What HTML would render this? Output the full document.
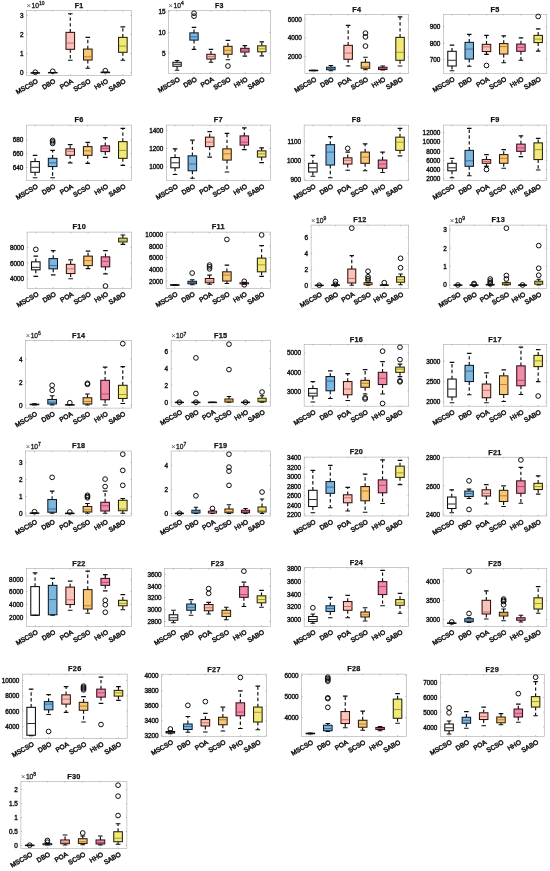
<!DOCTYPE html>
<html><head><meta charset="utf-8"><title>Boxplots</title>
<style>
html,body{margin:0;padding:0;background:#fff}
svg{display:block;filter:blur(0.3px);font-family:"Liberation Sans",sans-serif}
.ax{fill:#fff;stroke:#a8a8a8;stroke-width:.6}
.ti{font-weight:bold;text-anchor:middle;letter-spacing:.3px;fill:#111;stroke:#111;stroke-width:.25}
.ex{font-size:6.7px;fill:#1a1a1a;stroke:#1a1a1a;stroke-width:.3}
.mx{font-size:7.5px;stroke:none;fill:#555}
.yl{font-size:6.4px;text-anchor:end;fill:#1a1a1a;stroke:#1a1a1a;stroke-width:.42}
.xl{font-size:6.6px;text-anchor:end;fill:#1a1a1a;stroke:#1a1a1a;stroke-width:.5}
.wh{fill:none;stroke:#0c0c0c;stroke-width:1.15;stroke-dasharray:3.4 2.4}
.cp{fill:none;stroke:#0c0c0c;stroke-width:1.15}
.tk{fill:none;stroke:#888;stroke-width:.5}
circle{fill:none;stroke:#0c0c0c;stroke-width:1}
.b0{fill:#ffffff;stroke:#0c0c0c;stroke-width:1.05}
.m0{fill:none;stroke:#111111;stroke-width:.9}
.b1{fill:#7db7e0;stroke:#0c1a28;stroke-width:1.05}
.m1{fill:none;stroke:#2f6698;stroke-width:.9}
.b2{fill:#f9c3bb;stroke:#34100c;stroke-width:1.05}
.m2{fill:none;stroke:#c4665a;stroke-width:.9}
.b3{fill:#f8c878;stroke:#2a1c08;stroke-width:1.05}
.m3{fill:none;stroke:#b07c22;stroke-width:.9}
.b4{fill:#f08ca8;stroke:#340c1a;stroke-width:1.05}
.m4{fill:none;stroke:#b04466;stroke-width:.9}
.b5{fill:#f2ea78;stroke:#24210a;stroke-width:1.05}
.m5{fill:none;stroke:#989030;stroke-width:.9}
.fl{stroke:#111}
</style></head>
<body>
<svg width="550" height="871" viewBox="0 0 550 871">
<rect width="550" height="871" fill="#fff"/>
<g>
<rect class="ax" x="26.5" y="10.46" width="105.1" height="64.84"/>
<text class="ti" x="79.05" y="8.16" font-size="7.0">F1</text>
<text class="ex" x="26.5" y="8.16"><tspan class="mx">×</tspan><tspan dx="0.6">10</tspan><tspan dy="-2.8" font-size="5">10</tspan></text>
<text class="yl" x="23.5" y="17.94">3</text>
<text class="yl" x="23.5" y="36.87">2</text>
<text class="yl" x="23.5" y="56.05">1</text>
<text class="yl" x="23.5" y="75.23">0</text>
<text class="xl" transform="translate(38.56,82.5) rotate(-30)">MSCSO</text>
<rect class="b0 fl" x="30.97" y="72.73" width="8.58" height="0.4"/>
<path class="m0 fl" d="M31.42 72.73h7.68"/>
<circle cx="35.26" cy="72.24" r="2.35"/>
<text class="xl" transform="translate(56.07,82.5) rotate(-30)">DBO</text>
<rect class="b1 fl" x="48.48" y="72.49" width="8.58" height="0.4"/>
<path class="m1 fl" d="M48.93 72.49h7.68"/>
<circle cx="52.77" cy="71.24" r="2.35"/>
<text class="xl" transform="translate(73.59,82.5) rotate(-30)">POA</text>
<path class="wh" d="M70.29 32.38V13.7M70.29 49.32V60.28"/>
<rect class="b2" x="66" y="32.38" width="8.58" height="16.94"/>
<path class="m2" d="M66.45 43.09h7.68"/>
<text class="xl" transform="translate(91.11,82.5) rotate(-30)">SCSO</text>
<path class="wh" d="M87.81 49.07V37.36M87.81 60.03V68.25"/>
<rect class="b3" x="83.52" y="49.07" width="8.58" height="10.96"/>
<path class="m3" d="M83.97 56.79h7.68"/>
<text class="xl" transform="translate(108.62,82.5) rotate(-30)">HHO</text>
<rect class="b4 fl" x="101.03" y="72.24" width="8.58" height="0.4"/>
<path class="m4 fl" d="M101.48 72.24h7.68"/>
<circle cx="105.32" cy="70.74" r="2.35"/>
<text class="xl" transform="translate(126.14,82.5) rotate(-30)">SABO</text>
<path class="wh" d="M122.84 37.36V26.9M122.84 52.31V60.28"/>
<rect class="b5" x="118.55" y="37.36" width="8.58" height="14.95"/>
<path class="m5" d="M119 46.08h7.68"/>
<path class="cp" d="M32.94 72.73h4.63M32.94 72.73h4.63M50.46 72.49h4.63M50.46 72.49h4.63M67.97 13.7h4.63M67.97 60.28h4.63M85.49 37.36h4.63M85.49 68.25h4.63M103.01 72.24h4.63M103.01 72.24h4.63M120.52 26.9h4.63M120.52 60.28h4.63"/>
<path class="tk" d="M26.5 15.44h1.2M131.6 15.44h-1.2M26.5 34.37h1.2M131.6 34.37h-1.2M26.5 53.55h1.2M131.6 53.55h-1.2M26.5 72.73h1.2M131.6 72.73h-1.2M35.26 75.3v-1.2M35.26 10.46v1.2M52.77 75.3v-1.2M52.77 10.46v1.2M70.29 75.3v-1.2M70.29 10.46v1.2M87.81 75.3v-1.2M87.81 10.46v1.2M105.32 75.3v-1.2M105.32 10.46v1.2M122.84 75.3v-1.2M122.84 10.46v1.2"/>
</g>
<g>
<rect class="ax" x="168.6" y="10.46" width="101.7" height="62.94"/>
<text class="ti" x="219.45" y="8.16" font-size="7.0">F3</text>
<text class="ex" x="168.6" y="8.16"><tspan class="mx">×</tspan><tspan dx="0.6">10</tspan><tspan dy="-2.8" font-size="5">4</tspan></text>
<text class="yl" x="165.6" y="14.21">15</text>
<text class="yl" x="165.6" y="34.88">10</text>
<text class="yl" x="165.6" y="55.81">5</text>
<text class="xl" transform="translate(180.38,80.6) rotate(-30)">MSCSO</text>
<path class="wh" d="M177.07 62.27V60.53M177.07 66.26V70.24"/>
<rect class="b0" x="172.92" y="62.27" width="8.31" height="3.99"/>
<path class="m0" d="M173.37 64.27h7.41"/>
<text class="xl" transform="translate(197.33,80.6) rotate(-30)">DBO</text>
<path class="wh" d="M194.03 32.88V27.4M194.03 40.1V49.32"/>
<rect class="b1" x="189.87" y="32.88" width="8.31" height="7.22"/>
<path class="m1" d="M190.32 36.87h7.41"/>
<circle cx="194.03" cy="13.2" r="2.35"/>
<circle cx="194.03" cy="16.19" r="2.35"/>
<text class="xl" transform="translate(214.28,80.6) rotate(-30)">POA</text>
<path class="wh" d="M210.97 54.3V49.32M210.97 59.03V62.27"/>
<rect class="b2" x="206.82" y="54.3" width="8.31" height="4.73"/>
<path class="m2" d="M207.27 56.54h7.41"/>
<text class="xl" transform="translate(231.23,80.6) rotate(-30)">SCSO</text>
<path class="wh" d="M227.93 46.33V40.35M227.93 54.3V59.78"/>
<rect class="b3" x="223.77" y="46.33" width="8.31" height="7.97"/>
<path class="m3" d="M224.22 50.32h7.41"/>
<circle cx="227.93" cy="66.01" r="2.35"/>
<text class="xl" transform="translate(248.18,80.6) rotate(-30)">HHO</text>
<path class="wh" d="M244.88 48.32V45.58M244.88 52.06V56.05"/>
<rect class="b4" x="240.72" y="48.32" width="8.31" height="3.74"/>
<path class="m4" d="M241.17 50.07h7.41"/>
<text class="xl" transform="translate(265.13,80.6) rotate(-30)">SABO</text>
<path class="wh" d="M261.83 45.83V41.85M261.83 51.81V55.8"/>
<rect class="b5" x="257.67" y="45.83" width="8.31" height="5.98"/>
<path class="m5" d="M258.12 48.82h7.41"/>
<path class="cp" d="M174.83 60.53h4.48M174.83 70.24h4.48M191.78 27.4h4.48M191.78 49.32h4.48M208.73 49.32h4.48M208.73 62.27h4.48M225.68 40.35h4.48M225.68 59.78h4.48M242.63 45.58h4.48M242.63 56.05h4.48M259.58 41.85h4.48M259.58 55.8h4.48"/>
<path class="tk" d="M168.6 11.71h1.2M270.3 11.71h-1.2M168.6 32.38h1.2M270.3 32.38h-1.2M168.6 53.31h1.2M270.3 53.31h-1.2M177.07 73.4v-1.2M177.07 10.46v1.2M194.03 73.4v-1.2M194.03 10.46v1.2M210.97 73.4v-1.2M210.97 10.46v1.2M227.93 73.4v-1.2M227.93 10.46v1.2M244.88 73.4v-1.2M244.88 10.46v1.2M261.83 73.4v-1.2M261.83 10.46v1.2"/>
</g>
<g>
<rect class="ax" x="304.9" y="14.3" width="103.8" height="59.1"/>
<text class="ti" x="356.8" y="11.6" font-size="7.3">F4</text>
<text class="yl" x="301.9" y="21.68">6000</text>
<text class="yl" x="301.9" y="40.36">4000</text>
<text class="yl" x="301.9" y="59.04">2000</text>
<text class="xl" transform="translate(316.85,80.6) rotate(-30)">MSCSO</text>
<rect class="b0 fl" x="309.31" y="70.24" width="8.48" height="0.5"/>
<path class="m0 fl" d="M309.76 70.49h7.58"/>
<text class="xl" transform="translate(334.15,80.6) rotate(-30)">DBO</text>
<path class="wh" d="M330.85 67.25V65.51M330.85 69.75V70.74"/>
<rect class="b1" x="326.61" y="67.25" width="8.48" height="2.49"/>
<path class="m1" d="M327.06 68.75h7.58"/>
<text class="xl" transform="translate(351.45,80.6) rotate(-30)">POA</text>
<path class="wh" d="M348.15 45.33V25.41M348.15 59.28V66.01"/>
<rect class="b2" x="343.91" y="45.33" width="8.48" height="13.95"/>
<path class="m2" d="M344.36 53.06h7.58"/>
<text class="xl" transform="translate(368.75,80.6) rotate(-30)">SCSO</text>
<path class="wh" d="M365.45 62.27V57.29M365.45 68.25V69.75"/>
<rect class="b3" x="361.21" y="62.27" width="8.48" height="5.98"/>
<path class="m3" d="M361.66 66.76h7.58"/>
<circle cx="365.45" cy="33.13" r="2.35"/>
<circle cx="365.45" cy="36.87" r="2.35"/>
<circle cx="365.45" cy="46.08" r="2.35"/>
<text class="xl" transform="translate(386.05,80.6) rotate(-30)">HHO</text>
<path class="wh" d="M382.75 67.25V66.01M382.75 69.5V69.99"/>
<rect class="b4" x="378.51" y="67.25" width="8.48" height="2.24"/>
<path class="m4" d="M378.96 68.5h7.58"/>
<text class="xl" transform="translate(403.35,80.6) rotate(-30)">SABO</text>
<path class="wh" d="M400.05 37.36V16.94M400.05 60.28V66.01"/>
<rect class="b5" x="395.81" y="37.36" width="8.48" height="22.92"/>
<path class="m5" d="M396.26 52.31h7.58"/>
<path class="cp" d="M311.26 70.24h4.58M311.26 70.74h4.58M328.56 65.51h4.58M328.56 70.74h4.58M345.86 25.41h4.58M345.86 66.01h4.58M363.16 57.29h4.58M363.16 69.75h4.58M380.46 66.01h4.58M380.46 69.99h4.58M397.76 16.94h4.58M397.76 66.01h4.58"/>
<path class="tk" d="M304.9 19.18h1.2M408.7 19.18h-1.2M304.9 37.86h1.2M408.7 37.86h-1.2M304.9 56.54h1.2M408.7 56.54h-1.2M313.55 73.4v-1.2M313.55 14.3v1.2M330.85 73.4v-1.2M330.85 14.3v1.2M348.15 73.4v-1.2M348.15 14.3v1.2M365.45 73.4v-1.2M365.45 14.3v1.2M382.75 73.4v-1.2M382.75 14.3v1.2M400.05 73.4v-1.2M400.05 14.3v1.2"/>
</g>
<g>
<rect class="ax" x="443.39" y="14.3" width="103.41" height="59"/>
<text class="ti" x="495.09" y="11.6" font-size="7.3">F5</text>
<text class="yl" x="440.39" y="29.4">900</text>
<text class="yl" x="440.39" y="45.59">800</text>
<text class="yl" x="440.39" y="61.78">700</text>
<text class="xl" transform="translate(455.31,80.5) rotate(-30)">MSCSO</text>
<path class="wh" d="M452.01 51.31V45.09M452.01 66.01V70.74"/>
<rect class="b0" x="447.78" y="51.31" width="8.45" height="14.7"/>
<path class="m0" d="M448.23 60.28h7.55"/>
<text class="xl" transform="translate(472.54,80.5) rotate(-30)">DBO</text>
<path class="wh" d="M469.24 42.35V34.37M469.24 59.03V66.26"/>
<rect class="b1" x="465.02" y="42.35" width="8.45" height="16.69"/>
<path class="m1" d="M465.47 49.07h7.55"/>
<text class="xl" transform="translate(489.78,80.5) rotate(-30)">POA</text>
<path class="wh" d="M486.48 44.34V35.37M486.48 51.56V54.3"/>
<rect class="b2" x="482.25" y="44.34" width="8.45" height="7.22"/>
<path class="m2" d="M482.7 46.83h7.55"/>
<circle cx="486.48" cy="65.51" r="2.35"/>
<text class="xl" transform="translate(507.01,80.5) rotate(-30)">SCSO</text>
<path class="wh" d="M503.71 43.59V35.87M503.71 54.05V62.77"/>
<rect class="b3" x="499.49" y="43.59" width="8.45" height="10.46"/>
<path class="m3" d="M499.94 46.58h7.55"/>
<text class="xl" transform="translate(524.25,80.5) rotate(-30)">HHO</text>
<path class="wh" d="M520.95 44.09V37.86M520.95 51.31V60.28"/>
<rect class="b4" x="516.72" y="44.09" width="8.45" height="7.22"/>
<path class="m4" d="M517.17 47.33h7.55"/>
<text class="xl" transform="translate(541.48,80.5) rotate(-30)">SABO</text>
<path class="wh" d="M538.18 35.37V28.89M538.18 42.59V51.06"/>
<rect class="b5" x="533.96" y="35.37" width="8.45" height="7.22"/>
<path class="m5" d="M534.41 39.11h7.55"/>
<circle cx="538.18" cy="16.44" r="2.35"/>
<path class="cp" d="M449.73 45.09h4.56M449.73 70.74h4.56M466.96 34.37h4.56M466.96 66.26h4.56M484.2 35.37h4.56M484.2 54.3h4.56M501.43 35.87h4.56M501.43 62.77h4.56M518.67 37.86h4.56M518.67 60.28h4.56M535.9 28.89h4.56M535.9 51.06h4.56"/>
<path class="tk" d="M443.39 26.9h1.2M546.8 26.9h-1.2M443.39 43.09h1.2M546.8 43.09h-1.2M443.39 59.28h1.2M546.8 59.28h-1.2M452.01 73.3v-1.2M452.01 14.3v1.2M469.24 73.3v-1.2M469.24 14.3v1.2M486.48 73.3v-1.2M486.48 14.3v1.2M503.71 73.3v-1.2M503.71 14.3v1.2M520.95 73.3v-1.2M520.95 14.3v1.2M538.18 73.3v-1.2M538.18 14.3v1.2"/>
</g>
<g>
<rect class="ax" x="26.3" y="125.1" width="105.3" height="55.5"/>
<text class="ti" x="78.95" y="122.4" font-size="7.3">F6</text>
<text class="yl" x="23.3" y="142.15">680</text>
<text class="yl" x="23.3" y="156.09">660</text>
<text class="yl" x="23.3" y="170.04">640</text>
<text class="xl" transform="translate(38.38,187.8) rotate(-30)">MSCSO</text>
<path class="wh" d="M35.08 161.57V155.34M35.08 172.28V177.76"/>
<rect class="b0" x="30.78" y="161.57" width="8.6" height="10.71"/>
<path class="m0" d="M31.23 167.29h7.7"/>
<text class="xl" transform="translate(55.92,187.8) rotate(-30)">DBO</text>
<path class="wh" d="M52.62 158.33V150.36M52.62 166.55V177.76"/>
<rect class="b1" x="48.33" y="158.33" width="8.6" height="8.22"/>
<path class="m1" d="M48.78 162.81h7.7"/>
<circle cx="52.62" cy="140.39" r="2.35"/>
<circle cx="52.62" cy="141.89" r="2.35"/>
<circle cx="52.62" cy="143.38" r="2.35"/>
<text class="xl" transform="translate(73.47,187.8) rotate(-30)">POA</text>
<path class="wh" d="M70.17 148.86V144.63M70.17 155.34V162.81"/>
<rect class="b2" x="65.88" y="148.86" width="8.6" height="6.48"/>
<path class="m2" d="M66.33 151.35h7.7"/>
<text class="xl" transform="translate(91.03,187.8) rotate(-30)">SCSO</text>
<path class="wh" d="M87.73 146.62V142.39M87.73 155.34V163.31"/>
<rect class="b3" x="83.43" y="146.62" width="8.6" height="8.72"/>
<path class="m3" d="M83.88 150.85h7.7"/>
<text class="xl" transform="translate(108.58,187.8) rotate(-30)">HHO</text>
<path class="wh" d="M105.28 145.87V137.65M105.28 151.6V157.33"/>
<rect class="b4" x="100.98" y="145.87" width="8.6" height="5.73"/>
<path class="m4" d="M101.43 148.36h7.7"/>
<text class="xl" transform="translate(126.12,187.8) rotate(-30)">SABO</text>
<path class="wh" d="M122.83 141.64V128.44M122.83 158.33V165.3"/>
<rect class="b5" x="118.53" y="141.64" width="8.6" height="16.69"/>
<path class="m5" d="M118.98 150.36h7.7"/>
<path class="cp" d="M32.75 155.34h4.64M32.75 177.76h4.64M50.3 150.36h4.64M50.3 177.76h4.64M67.85 144.63h4.64M67.85 162.81h4.64M85.4 142.39h4.64M85.4 163.31h4.64M102.95 137.65h4.64M102.95 157.33h4.64M120.5 128.44h4.64M120.5 165.3h4.64"/>
<path class="tk" d="M26.3 139.65h1.2M131.6 139.65h-1.2M26.3 153.59h1.2M131.6 153.59h-1.2M26.3 167.54h1.2M131.6 167.54h-1.2M35.08 180.6v-1.2M35.08 125.1v1.2M52.62 180.6v-1.2M52.62 125.1v1.2M70.17 180.6v-1.2M70.17 125.1v1.2M87.73 180.6v-1.2M87.73 125.1v1.2M105.28 180.6v-1.2M105.28 125.1v1.2M122.83 180.6v-1.2M122.83 125.1v1.2"/>
</g>
<g>
<rect class="ax" x="166.4" y="125.1" width="103.9" height="55.5"/>
<text class="ti" x="218.35" y="122.4" font-size="7.3">F7</text>
<text class="yl" x="163.4" y="132.68">1400</text>
<text class="yl" x="163.4" y="150.86">1200</text>
<text class="yl" x="163.4" y="169.3">1000</text>
<text class="xl" transform="translate(178.36,187.8) rotate(-30)">MSCSO</text>
<path class="wh" d="M175.06 157.58V148.86M175.06 167.79V174.52"/>
<rect class="b0" x="170.82" y="157.58" width="8.49" height="10.21"/>
<path class="m0" d="M171.27 162.81h7.59"/>
<text class="xl" transform="translate(195.68,187.8) rotate(-30)">DBO</text>
<path class="wh" d="M192.38 155.84V140.14M192.38 170.78V178.25"/>
<rect class="b1" x="188.13" y="155.84" width="8.49" height="14.95"/>
<path class="m1" d="M188.58 164.06h7.59"/>
<text class="xl" transform="translate(212.99,187.8) rotate(-30)">POA</text>
<path class="wh" d="M209.69 137.15V131.67M209.69 146.62V157.08"/>
<rect class="b2" x="205.45" y="137.15" width="8.49" height="9.47"/>
<path class="m2" d="M205.9 142.14h7.59"/>
<text class="xl" transform="translate(230.31,187.8) rotate(-30)">SCSO</text>
<path class="wh" d="M227.01 148.86V133.42M227.01 160.07V172.03"/>
<rect class="b3" x="222.77" y="148.86" width="8.49" height="11.21"/>
<path class="m3" d="M223.22 153.84h7.59"/>
<text class="xl" transform="translate(247.62,187.8) rotate(-30)">HHO</text>
<path class="wh" d="M244.32 135.91V127.94M244.32 145.13V149.61"/>
<rect class="b4" x="240.08" y="135.91" width="8.49" height="9.22"/>
<path class="m4" d="M240.53 142.14h7.59"/>
<text class="xl" transform="translate(264.94,187.8) rotate(-30)">SABO</text>
<path class="wh" d="M261.64 150.85V147.87M261.64 157.08V162.56"/>
<rect class="b5" x="257.4" y="150.85" width="8.49" height="6.23"/>
<path class="m5" d="M257.85 153.84h7.59"/>
<path class="cp" d="M172.77 148.86h4.58M172.77 174.52h4.58M190.08 140.14h4.58M190.08 178.25h4.58M207.4 131.67h4.58M207.4 157.08h4.58M224.72 133.42h4.58M224.72 172.03h4.58M242.03 127.94h4.58M242.03 149.61h4.58M259.35 147.87h4.58M259.35 162.56h4.58"/>
<path class="tk" d="M166.4 130.18h1.2M270.3 130.18h-1.2M166.4 148.36h1.2M270.3 148.36h-1.2M166.4 166.8h1.2M270.3 166.8h-1.2M175.06 180.6v-1.2M175.06 125.1v1.2M192.38 180.6v-1.2M192.38 125.1v1.2M209.69 180.6v-1.2M209.69 125.1v1.2M227.01 180.6v-1.2M227.01 125.1v1.2M244.32 180.6v-1.2M244.32 125.1v1.2M261.64 180.6v-1.2M261.64 125.1v1.2"/>
</g>
<g>
<rect class="ax" x="304.15" y="125.1" width="104.55" height="55.5"/>
<text class="ti" x="356.42" y="122.4" font-size="7.3">F8</text>
<text class="yl" x="301.15" y="143.89">1100</text>
<text class="yl" x="301.15" y="162.82">1000</text>
<text class="yl" x="301.15" y="182">900</text>
<text class="xl" transform="translate(316.16,187.8) rotate(-30)">MSCSO</text>
<path class="wh" d="M312.86 163.31V155.34M312.86 172.03V176.26"/>
<rect class="b0" x="308.59" y="163.31" width="8.54" height="8.72"/>
<path class="m0" d="M309.04 167.79h7.64"/>
<text class="xl" transform="translate(333.59,187.8) rotate(-30)">DBO</text>
<path class="wh" d="M330.29 144.63V136.66M330.29 165.05V177.76"/>
<rect class="b1" x="326.02" y="144.63" width="8.54" height="20.43"/>
<path class="m1" d="M326.47 152.1h7.64"/>
<text class="xl" transform="translate(351.01,187.8) rotate(-30)">POA</text>
<path class="wh" d="M347.71 157.83V152.1M347.71 164.06V170.28"/>
<rect class="b2" x="343.44" y="157.83" width="8.54" height="6.23"/>
<path class="m2" d="M343.89 160.32h7.64"/>
<circle cx="347.71" cy="148.36" r="2.35"/>
<text class="xl" transform="translate(368.44,187.8) rotate(-30)">SCSO</text>
<path class="wh" d="M365.14 152.1V143.88M365.14 163.31V170.78"/>
<rect class="b3" x="360.87" y="152.1" width="8.54" height="11.21"/>
<path class="m3" d="M361.32 157.08h7.64"/>
<text class="xl" transform="translate(385.86,187.8) rotate(-30)">HHO</text>
<path class="wh" d="M382.56 160.07V152.1M382.56 168.29V172.53"/>
<rect class="b4" x="378.29" y="160.07" width="8.54" height="8.22"/>
<path class="m4" d="M378.74 164.06h7.64"/>
<text class="xl" transform="translate(403.29,187.8) rotate(-30)">SABO</text>
<path class="wh" d="M399.99 137.15V128.44M399.99 150.36V155.84"/>
<rect class="b5" x="395.72" y="137.15" width="8.54" height="13.2"/>
<path class="m5" d="M396.17 142.14h7.64"/>
<path class="cp" d="M310.55 155.34h4.61M310.55 176.26h4.61M327.98 136.66h4.61M327.98 177.76h4.61M345.41 152.1h4.61M345.41 170.28h4.61M362.83 143.88h4.61M362.83 170.78h4.61M380.26 152.1h4.61M380.26 172.53h4.61M397.68 128.44h4.61M397.68 155.84h4.61"/>
<path class="tk" d="M304.15 141.39h1.2M408.7 141.39h-1.2M304.15 160.32h1.2M408.7 160.32h-1.2M304.15 179.5h1.2M408.7 179.5h-1.2M312.86 180.6v-1.2M312.86 125.1v1.2M330.29 180.6v-1.2M330.29 125.1v1.2M347.71 180.6v-1.2M347.71 125.1v1.2M365.14 180.6v-1.2M365.14 125.1v1.2M382.56 180.6v-1.2M382.56 125.1v1.2M399.99 180.6v-1.2M399.99 125.1v1.2"/>
</g>
<g>
<rect class="ax" x="443.39" y="125.1" width="103.41" height="55.5"/>
<text class="ti" x="495.09" y="122.4" font-size="7.3">F9</text>
<text class="yl" x="440.39" y="135.42">12000</text>
<text class="yl" x="440.39" y="144.39">10000</text>
<text class="yl" x="440.39" y="153.6">8000</text>
<text class="yl" x="440.39" y="162.82">6000</text>
<text class="yl" x="440.39" y="172.04">4000</text>
<text class="yl" x="440.39" y="181">2000</text>
<text class="xl" transform="translate(455.31,187.8) rotate(-30)">MSCSO</text>
<path class="wh" d="M452.01 163.31V158.33M452.01 170.78V177.76"/>
<rect class="b0" x="447.78" y="163.31" width="8.45" height="7.47"/>
<path class="m0" d="M448.23 167.79h7.55"/>
<text class="xl" transform="translate(472.54,187.8) rotate(-30)">DBO</text>
<path class="wh" d="M469.24 150.36V128.44M469.24 166.3V175.76"/>
<rect class="b1" x="465.02" y="150.36" width="8.45" height="15.94"/>
<path class="m1" d="M465.47 160.82h7.55"/>
<text class="xl" transform="translate(489.78,187.8) rotate(-30)">POA</text>
<path class="wh" d="M486.48 159.57V154.59M486.48 163.31V166.3"/>
<rect class="b2" x="482.25" y="159.57" width="8.45" height="3.74"/>
<path class="m2" d="M482.7 161.57h7.55"/>
<circle cx="486.48" cy="169.54" r="2.35"/>
<text class="xl" transform="translate(507.01,187.8) rotate(-30)">SCSO</text>
<path class="wh" d="M503.71 154.59V149.61M503.71 163.31V168.29"/>
<rect class="b3" x="499.49" y="154.59" width="8.45" height="8.72"/>
<path class="m3" d="M499.94 158.33h7.55"/>
<text class="xl" transform="translate(524.25,187.8) rotate(-30)">HHO</text>
<path class="wh" d="M520.95 144.13V135.91M520.95 151.35V156.58"/>
<rect class="b4" x="516.72" y="144.13" width="8.45" height="7.22"/>
<path class="m4" d="M517.17 147.87h7.55"/>
<text class="xl" transform="translate(541.48,187.8) rotate(-30)">SABO</text>
<path class="wh" d="M538.18 142.88V138.4M538.18 159.57V170.03"/>
<rect class="b5" x="533.96" y="142.88" width="8.45" height="16.69"/>
<path class="m5" d="M534.41 149.61h7.55"/>
<path class="cp" d="M449.73 158.33h4.56M449.73 177.76h4.56M466.96 128.44h4.56M466.96 175.76h4.56M484.2 154.59h4.56M484.2 166.3h4.56M501.43 149.61h4.56M501.43 168.29h4.56M518.67 135.91h4.56M518.67 156.58h4.56M535.9 138.4h4.56M535.9 170.03h4.56"/>
<path class="tk" d="M443.39 132.92h1.2M546.8 132.92h-1.2M443.39 141.89h1.2M546.8 141.89h-1.2M443.39 151.1h1.2M546.8 151.1h-1.2M443.39 160.32h1.2M546.8 160.32h-1.2M443.39 169.54h1.2M546.8 169.54h-1.2M443.39 178.5h1.2M546.8 178.5h-1.2M452.01 180.6v-1.2M452.01 125.1v1.2M469.24 180.6v-1.2M469.24 125.1v1.2M486.48 180.6v-1.2M486.48 125.1v1.2M503.71 180.6v-1.2M503.71 125.1v1.2M520.95 180.6v-1.2M520.95 125.1v1.2M538.18 180.6v-1.2M538.18 125.1v1.2"/>
</g>
<g>
<rect class="ax" x="27.1" y="232.1" width="104.5" height="56.2"/>
<text class="ti" x="79.35" y="229.4" font-size="7.3">F10</text>
<text class="yl" x="24.1" y="249.91">8000</text>
<text class="yl" x="24.1" y="265.6">6000</text>
<text class="yl" x="24.1" y="281.29">4000</text>
<text class="xl" transform="translate(39.11,295.5) rotate(-30)">MSCSO</text>
<path class="wh" d="M35.81 261.85V256.13M35.81 269.83V276.3"/>
<rect class="b0" x="31.54" y="261.85" width="8.53" height="7.97"/>
<path class="m0" d="M31.99 267.33h7.63"/>
<circle cx="35.81" cy="249.4" r="2.35"/>
<text class="xl" transform="translate(56.52,295.5) rotate(-30)">DBO</text>
<path class="wh" d="M53.23 258.62V250.65M53.23 268.83V274.81"/>
<rect class="b1" x="48.96" y="258.62" width="8.53" height="10.21"/>
<path class="m1" d="M49.41 265.59h7.63"/>
<text class="xl" transform="translate(73.94,295.5) rotate(-30)">POA</text>
<path class="wh" d="M70.64 264.35V259.86M70.64 273.56V278.79"/>
<rect class="b2" x="66.37" y="264.35" width="8.53" height="9.22"/>
<path class="m2" d="M66.82 268.83h7.63"/>
<text class="xl" transform="translate(91.36,295.5) rotate(-30)">SCSO</text>
<path class="wh" d="M88.06 256.13V251.14M88.06 265.59V268.58"/>
<rect class="b3" x="83.79" y="256.13" width="8.53" height="9.47"/>
<path class="m3" d="M84.24 260.61h7.63"/>
<text class="xl" transform="translate(108.77,295.5) rotate(-30)">HHO</text>
<path class="wh" d="M105.47 256.87V250.65M105.47 266.84V273.81"/>
<rect class="b4" x="101.21" y="256.87" width="8.53" height="9.96"/>
<path class="m4" d="M101.66 261.36h7.63"/>
<circle cx="105.47" cy="286.02" r="2.35"/>
<text class="xl" transform="translate(126.19,295.5) rotate(-30)">SABO</text>
<path class="wh" d="M122.89 238.19V234.95M122.89 241.93V244.42"/>
<rect class="b5" x="118.62" y="238.19" width="8.53" height="3.74"/>
<path class="m5" d="M119.07 240.18h7.63"/>
<path class="cp" d="M33.5 256.13h4.61M33.5 276.3h4.61M50.92 250.65h4.61M50.92 274.81h4.61M68.34 259.86h4.61M68.34 278.79h4.61M85.75 251.14h4.61M85.75 268.58h4.61M103.17 250.65h4.61M103.17 273.81h4.61M120.59 234.95h4.61M120.59 244.42h4.61"/>
<path class="tk" d="M27.1 247.41h1.2M131.6 247.41h-1.2M27.1 263.1h1.2M131.6 263.1h-1.2M27.1 278.79h1.2M131.6 278.79h-1.2M35.81 288.3v-1.2M35.81 232.1v1.2M53.23 288.3v-1.2M53.23 232.1v1.2M70.64 288.3v-1.2M70.64 232.1v1.2M88.06 288.3v-1.2M88.06 232.1v1.2M105.47 288.3v-1.2M105.47 232.1v1.2M122.89 288.3v-1.2M122.89 232.1v1.2"/>
</g>
<g>
<rect class="ax" x="166.15" y="232.1" width="104.15" height="56.2"/>
<text class="ti" x="218.22" y="229.4" font-size="7.3">F11</text>
<text class="yl" x="163.15" y="236.95">10000</text>
<text class="yl" x="163.15" y="248.66">8000</text>
<text class="yl" x="163.15" y="260.12">6000</text>
<text class="yl" x="163.15" y="271.83">4000</text>
<text class="yl" x="163.15" y="283.53">2000</text>
<text class="xl" transform="translate(178.13,295.5) rotate(-30)">MSCSO</text>
<rect class="b0 fl" x="170.57" y="284.77" width="8.51" height="0.5"/>
<path class="m0 fl" d="M171.02 285.02h7.61"/>
<text class="xl" transform="translate(195.49,295.5) rotate(-30)">DBO</text>
<path class="wh" d="M192.19 281.28V279.79M192.19 283.77V284.77"/>
<rect class="b1" x="187.93" y="281.28" width="8.51" height="2.49"/>
<path class="m1" d="M188.38 282.53h7.61"/>
<circle cx="192.19" cy="273.06" r="2.35"/>
<text class="xl" transform="translate(212.84,295.5) rotate(-30)">POA</text>
<path class="wh" d="M209.54 278.54V275.06M209.54 282.78V284.27"/>
<rect class="b2" x="205.29" y="278.54" width="8.51" height="4.23"/>
<path class="m2" d="M205.74 281.03h7.61"/>
<circle cx="209.54" cy="265.09" r="2.35"/>
<circle cx="209.54" cy="266.84" r="2.35"/>
<circle cx="209.54" cy="268.83" r="2.35"/>
<text class="xl" transform="translate(230.2,295.5) rotate(-30)">SCSO</text>
<path class="wh" d="M226.9 271.82V265.09M226.9 281.03V283.53"/>
<rect class="b3" x="222.65" y="271.82" width="8.51" height="9.22"/>
<path class="m3" d="M223.1 275.06h7.61"/>
<circle cx="226.9" cy="239.44" r="2.35"/>
<text class="xl" transform="translate(247.56,295.5) rotate(-30)">HHO</text>
<path class="wh" d="M244.26 282.78V282.28M244.26 283.77V284.27"/>
<rect class="b4" x="240.01" y="282.78" width="8.51" height="1"/>
<path class="m4" d="M240.46 283.28h7.61"/>
<circle cx="244.26" cy="281.28" r="2.35"/>
<circle cx="244.26" cy="284.77" r="2.35"/>
<text class="xl" transform="translate(264.92,295.5) rotate(-30)">SABO</text>
<path class="wh" d="M261.62 258.12V245.66M261.62 271.82V276.3"/>
<rect class="b5" x="257.37" y="258.12" width="8.51" height="13.7"/>
<path class="m5" d="M257.82 264.84h7.61"/>
<circle cx="261.62" cy="234.95" r="2.35"/>
<path class="cp" d="M172.53 284.52h4.59M172.53 285.52h4.59M189.89 279.79h4.59M189.89 284.77h4.59M207.25 275.06h4.59M207.25 284.27h4.59M224.61 265.09h4.59M224.61 283.53h4.59M241.97 282.28h4.59M241.97 284.27h4.59M259.32 245.66h4.59M259.32 276.3h4.59"/>
<path class="tk" d="M166.15 234.45h1.2M270.3 234.45h-1.2M166.15 246.16h1.2M270.3 246.16h-1.2M166.15 257.62h1.2M270.3 257.62h-1.2M166.15 269.33h1.2M270.3 269.33h-1.2M166.15 281.03h1.2M270.3 281.03h-1.2M174.83 288.3v-1.2M174.83 232.1v1.2M192.19 288.3v-1.2M192.19 232.1v1.2M209.54 288.3v-1.2M209.54 232.1v1.2M226.9 288.3v-1.2M226.9 232.1v1.2M244.26 288.3v-1.2M244.26 232.1v1.2M261.62 288.3v-1.2M261.62 232.1v1.2"/>
</g>
<g>
<rect class="ax" x="311.1" y="225.1" width="97.6" height="63.3"/>
<text class="ti" x="359.9" y="222.4" font-size="7.3">F12</text>
<text class="ex" x="311.1" y="222.8"><tspan class="mx">×</tspan><tspan dx="0.6">10</tspan><tspan dy="-2.8" font-size="5">9</tspan></text>
<text class="yl" x="308.1" y="239.88">6</text>
<text class="yl" x="308.1" y="256.07">4</text>
<text class="yl" x="308.1" y="271.77">2</text>
<text class="yl" x="308.1" y="287.71">0</text>
<text class="xl" transform="translate(322.53,295.6) rotate(-30)">MSCSO</text>
<rect class="b0 fl" x="315.25" y="285.21" width="7.97" height="0.4"/>
<path class="m0 fl" d="M315.7 285.21h7.07"/>
<circle cx="319.23" cy="285.21" r="2.35"/>
<text class="xl" transform="translate(338.8,295.6) rotate(-30)">DBO</text>
<rect class="b1 fl" x="331.51" y="284.96" width="7.97" height="0.4"/>
<path class="m1 fl" d="M331.96 284.96h7.07"/>
<circle cx="335.5" cy="281.47" r="2.35"/>
<circle cx="335.5" cy="284.21" r="2.35"/>
<text class="xl" transform="translate(355.07,295.6) rotate(-30)">POA</text>
<path class="wh" d="M351.77 269.02V255.57M351.77 282.97V285.21"/>
<rect class="b2" x="347.78" y="269.02" width="7.97" height="13.95"/>
<path class="m2" d="M348.23 278.48h7.07"/>
<circle cx="351.77" cy="228.17" r="2.35"/>
<text class="xl" transform="translate(371.33,295.6) rotate(-30)">SCSO</text>
<path class="wh" d="M368.03 282.72V282.22M368.03 284.71V285.21"/>
<rect class="b3" x="364.05" y="282.72" width="7.97" height="1.99"/>
<path class="m3" d="M364.5 283.96h7.07"/>
<circle cx="368.03" cy="271.26" r="2.35"/>
<circle cx="368.03" cy="276.74" r="2.35"/>
<circle cx="368.03" cy="278.73" r="2.35"/>
<circle cx="368.03" cy="280.47" r="2.35"/>
<text class="xl" transform="translate(387.6,295.6) rotate(-30)">HHO</text>
<rect class="b4 fl" x="380.31" y="284.96" width="7.97" height="0.4"/>
<path class="m4 fl" d="M380.76 284.96h7.07"/>
<circle cx="384.3" cy="282.72" r="2.35"/>
<text class="xl" transform="translate(403.87,295.6) rotate(-30)">SABO</text>
<path class="wh" d="M400.57 276.74V274M400.57 282.22V284.71"/>
<rect class="b5" x="396.58" y="276.74" width="7.97" height="5.48"/>
<path class="m5" d="M397.03 279.73h7.07"/>
<circle cx="400.57" cy="258.31" r="2.35"/>
<circle cx="400.57" cy="267.77" r="2.35"/>
<path class="cp" d="M317.08 285.21h4.3M317.08 285.21h4.3M333.35 284.96h4.3M333.35 284.96h4.3M349.61 255.57h4.3M349.61 285.21h4.3M365.88 282.22h4.3M365.88 285.21h4.3M382.15 284.96h4.3M382.15 284.96h4.3M398.41 274h4.3M398.41 284.71h4.3"/>
<path class="tk" d="M311.1 237.38h1.2M408.7 237.38h-1.2M311.1 253.57h1.2M408.7 253.57h-1.2M311.1 269.27h1.2M408.7 269.27h-1.2M311.1 285.21h1.2M408.7 285.21h-1.2M319.23 288.4v-1.2M319.23 225.1v1.2M335.5 288.4v-1.2M335.5 225.1v1.2M351.77 288.4v-1.2M351.77 225.1v1.2M368.03 288.4v-1.2M368.03 225.1v1.2M384.3 288.4v-1.2M384.3 225.1v1.2M400.57 288.4v-1.2M400.57 225.1v1.2"/>
</g>
<g>
<rect class="ax" x="449.8" y="225.1" width="97" height="63.3"/>
<text class="ti" x="498.3" y="222.4" font-size="7.3">F13</text>
<text class="ex" x="449.8" y="222.8"><tspan class="mx">×</tspan><tspan dx="0.6">10</tspan><tspan dy="-2.8" font-size="5">9</tspan></text>
<text class="yl" x="446.8" y="232.41">3</text>
<text class="yl" x="446.8" y="250.59">2</text>
<text class="yl" x="446.8" y="269.03">1</text>
<text class="yl" x="446.8" y="287.46">0</text>
<text class="xl" transform="translate(461.18,295.6) rotate(-30)">MSCSO</text>
<rect class="b0 fl" x="453.92" y="284.96" width="7.92" height="0.4"/>
<path class="m0 fl" d="M454.37 284.96h7.02"/>
<circle cx="457.88" cy="284.96" r="2.35"/>
<text class="xl" transform="translate(477.35,295.6) rotate(-30)">DBO</text>
<rect class="b1 fl" x="470.09" y="284.96" width="7.92" height="0.4"/>
<path class="m1 fl" d="M470.54 284.96h7.02"/>
<circle cx="474.05" cy="283.46" r="2.35"/>
<circle cx="474.05" cy="284.46" r="2.35"/>
<text class="xl" transform="translate(493.52,295.6) rotate(-30)">POA</text>
<rect class="b2 fl" x="486.26" y="284.46" width="7.92" height="0.5"/>
<path class="m2 fl" d="M486.71 284.71h7.02"/>
<circle cx="490.22" cy="278.98" r="2.35"/>
<circle cx="490.22" cy="280.97" r="2.35"/>
<circle cx="490.22" cy="282.72" r="2.35"/>
<circle cx="490.22" cy="283.96" r="2.35"/>
<text class="xl" transform="translate(509.68,295.6) rotate(-30)">SCSO</text>
<path class="wh" d="M506.38 282.72V282.22"/>
<rect class="b3" x="502.42" y="282.72" width="7.92" height="1.99"/>
<path class="m3" d="M502.87 283.71h7.02"/>
<circle cx="506.38" cy="228.17" r="2.35"/>
<circle cx="506.38" cy="275.49" r="2.35"/>
<circle cx="506.38" cy="278.98" r="2.35"/>
<text class="xl" transform="translate(525.85,295.6) rotate(-30)">HHO</text>
<rect class="b4 fl" x="518.59" y="284.96" width="7.92" height="0.4"/>
<path class="m4 fl" d="M519.04 284.96h7.02"/>
<circle cx="522.55" cy="284.96" r="2.35"/>
<text class="xl" transform="translate(542.02,295.6) rotate(-30)">SABO</text>
<path class="wh" d="M538.72 281.22V279.23M538.72 284.21V284.96"/>
<rect class="b5" x="534.76" y="281.22" width="7.92" height="2.99"/>
<path class="m5" d="M535.21 282.72h7.02"/>
<circle cx="538.72" cy="245.6" r="2.35"/>
<circle cx="538.72" cy="268.27" r="2.35"/>
<circle cx="538.72" cy="275.24" r="2.35"/>
<path class="cp" d="M455.74 284.96h4.28M455.74 284.96h4.28M471.91 284.96h4.28M471.91 284.96h4.28M488.08 284.21h4.28M488.08 284.96h4.28M504.24 282.22h4.28M504.24 284.96h4.28M520.41 284.96h4.28M520.41 284.96h4.28M536.58 279.23h4.28M536.58 284.96h4.28"/>
<path class="tk" d="M449.8 229.91h1.2M546.8 229.91h-1.2M449.8 248.09h1.2M546.8 248.09h-1.2M449.8 266.53h1.2M546.8 266.53h-1.2M449.8 284.96h1.2M546.8 284.96h-1.2M457.88 288.4v-1.2M457.88 225.1v1.2M474.05 288.4v-1.2M474.05 225.1v1.2M490.22 288.4v-1.2M490.22 225.1v1.2M506.38 288.4v-1.2M506.38 225.1v1.2M522.55 288.4v-1.2M522.55 225.1v1.2M538.72 288.4v-1.2M538.72 225.1v1.2"/>
</g>
<g>
<rect class="ax" x="25.66" y="340.3" width="105.94" height="67.8"/>
<text class="ti" x="78.63" y="337.6" font-size="7.3">F14</text>
<text class="ex" x="25.66" y="338"><tspan class="mx">×</tspan><tspan dx="0.6">10</tspan><tspan dy="-2.8" font-size="5">6</tspan></text>
<text class="yl" x="22.66" y="361.64">4</text>
<text class="yl" x="22.66" y="384.55">2</text>
<text class="yl" x="22.66" y="407.72">0</text>
<text class="xl" transform="translate(37.78,415.3) rotate(-30)">MSCSO</text>
<path class="wh" d="M34.48 404.22V403.72"/>
<rect class="b0 fl" x="30.16" y="404.22" width="8.65" height="0.5"/>
<path class="m0 fl" d="M30.61 404.47h7.75"/>
<text class="xl" transform="translate(55.44,415.3) rotate(-30)">DBO</text>
<path class="wh" d="M52.14 399.49V395.75M52.14 403.97V404.97"/>
<rect class="b1" x="47.82" y="399.49" width="8.65" height="4.48"/>
<path class="m1" d="M48.27 402.23h7.75"/>
<circle cx="52.14" cy="385.29" r="2.35"/>
<circle cx="52.14" cy="390.27" r="2.35"/>
<text class="xl" transform="translate(73.1,415.3) rotate(-30)">POA</text>
<rect class="b2 fl" x="65.47" y="404.72" width="8.65" height="0.4"/>
<path class="m2 fl" d="M65.92 404.72h7.75"/>
<circle cx="69.8" cy="402.73" r="2.35"/>
<text class="xl" transform="translate(90.76,415.3) rotate(-30)">SCSO</text>
<path class="wh" d="M87.46 397.75V394.01M87.46 403.97V404.97"/>
<rect class="b3" x="83.13" y="397.75" width="8.65" height="6.23"/>
<path class="m3" d="M83.58 401.48h7.75"/>
<circle cx="87.46" cy="383.3" r="2.35"/>
<circle cx="87.46" cy="384.29" r="2.35"/>
<text class="xl" transform="translate(108.41,415.3) rotate(-30)">HHO</text>
<path class="wh" d="M105.11 380.31V367.11M105.11 399.74V404.97"/>
<rect class="b4" x="100.79" y="380.31" width="8.65" height="19.43"/>
<path class="m4" d="M101.24 394.01h7.75"/>
<text class="xl" transform="translate(126.07,415.3) rotate(-30)">SABO</text>
<path class="wh" d="M122.77 385.29V366.61M122.77 398.49V403.47"/>
<rect class="b5" x="118.45" y="385.29" width="8.65" height="13.2"/>
<path class="m5" d="M118.9 394.51h7.75"/>
<circle cx="122.77" cy="343.69" r="2.35"/>
<path class="cp" d="M32.15 403.72h4.67M32.15 404.97h4.67M49.81 395.75h4.67M49.81 404.97h4.67M67.46 404.72h4.67M67.46 404.72h4.67M85.12 394.01h4.67M85.12 404.97h4.67M102.78 367.11h4.67M102.78 404.97h4.67M120.44 366.61h4.67M120.44 403.47h4.67"/>
<path class="tk" d="M25.66 359.14h1.2M131.6 359.14h-1.2M25.66 382.05h1.2M131.6 382.05h-1.2M25.66 405.22h1.2M131.6 405.22h-1.2M34.48 408.1v-1.2M34.48 340.3v1.2M52.14 408.1v-1.2M52.14 340.3v1.2M69.8 408.1v-1.2M69.8 340.3v1.2M87.46 408.1v-1.2M87.46 340.3v1.2M105.11 408.1v-1.2M105.11 340.3v1.2M122.77 408.1v-1.2M122.77 340.3v1.2"/>
</g>
<g>
<rect class="ax" x="171.13" y="340.6" width="99.17" height="65.6"/>
<text class="ti" x="220.71" y="337.9" font-size="7.3">F15</text>
<text class="ex" x="171.13" y="338.3"><tspan class="mx">×</tspan><tspan dx="0.6">10</tspan><tspan dy="-2.8" font-size="5">7</tspan></text>
<text class="yl" x="168.13" y="353.67">6</text>
<text class="yl" x="168.13" y="370.85">4</text>
<text class="yl" x="168.13" y="387.79">2</text>
<text class="yl" x="168.13" y="404.73">0</text>
<text class="xl" transform="translate(182.69,413.4) rotate(-30)">MSCSO</text>
<rect class="b0 fl" x="175.34" y="402.23" width="8.1" height="0.4"/>
<path class="m0 fl" d="M175.79 402.23h7.2"/>
<circle cx="179.39" cy="402.23" r="2.35"/>
<text class="xl" transform="translate(199.22,413.4) rotate(-30)">DBO</text>
<rect class="b1 fl" x="191.87" y="402.23" width="8.1" height="0.4"/>
<path class="m1 fl" d="M192.32 402.23h7.2"/>
<circle cx="195.92" cy="357.89" r="2.35"/>
<circle cx="195.92" cy="393.51" r="2.35"/>
<circle cx="195.92" cy="402.23" r="2.35"/>
<text class="xl" transform="translate(215.75,413.4) rotate(-30)">POA</text>
<rect class="b2 fl" x="208.4" y="402.23" width="8.1" height="0.4"/>
<path class="m2 fl" d="M208.85 402.23h7.2"/>
<text class="xl" transform="translate(232.28,413.4) rotate(-30)">SCSO</text>
<path class="wh" d="M228.98 398.99V396.5"/>
<rect class="b3" x="224.93" y="398.99" width="8.1" height="2.99"/>
<path class="m3" d="M225.38 400.98h7.2"/>
<circle cx="228.98" cy="344.19" r="2.35"/>
<circle cx="228.98" cy="369.6" r="2.35"/>
<text class="xl" transform="translate(248.81,413.4) rotate(-30)">HHO</text>
<rect class="b4 fl" x="241.46" y="402.23" width="8.1" height="0.4"/>
<path class="m4 fl" d="M241.91 402.23h7.2"/>
<circle cx="245.51" cy="402.23" r="2.35"/>
<text class="xl" transform="translate(265.34,413.4) rotate(-30)">SABO</text>
<path class="wh" d="M262.04 398.24V395.75M262.04 401.73V402.23"/>
<rect class="b5" x="257.99" y="398.24" width="8.1" height="3.49"/>
<path class="m5" d="M258.44 400.24h7.2"/>
<circle cx="262.04" cy="392.02" r="2.35"/>
<path class="cp" d="M177.21 402.23h4.37M177.21 402.23h4.37M193.74 402.23h4.37M193.74 402.23h4.37M210.26 402.23h4.37M210.26 402.23h4.37M226.79 396.5h4.37M226.79 402.23h4.37M243.32 402.23h4.37M243.32 402.23h4.37M259.85 395.75h4.37M259.85 402.23h4.37"/>
<path class="tk" d="M171.13 351.17h1.2M270.3 351.17h-1.2M171.13 368.35h1.2M270.3 368.35h-1.2M171.13 385.29h1.2M270.3 385.29h-1.2M171.13 402.23h1.2M270.3 402.23h-1.2M179.39 406.2v-1.2M179.39 340.6v1.2M195.92 406.2v-1.2M195.92 340.6v1.2M212.45 406.2v-1.2M212.45 340.6v1.2M228.98 406.2v-1.2M228.98 340.6v1.2M245.51 406.2v-1.2M245.51 340.6v1.2M262.04 406.2v-1.2M262.04 340.6v1.2"/>
</g>
<g>
<rect class="ax" x="304.15" y="344.4" width="104.55" height="61.8"/>
<text class="ti" x="356.42" y="341.7" font-size="7.3">F16</text>
<text class="yl" x="301.15" y="355.41">5000</text>
<text class="yl" x="301.15" y="374.59">4000</text>
<text class="yl" x="301.15" y="393.52">3000</text>
<text class="xl" transform="translate(316.16,413.4) rotate(-30)">MSCSO</text>
<path class="wh" d="M312.86 388.53V381.55M312.86 396V401.98"/>
<rect class="b0" x="308.59" y="388.53" width="8.54" height="7.47"/>
<path class="m0" d="M309.04 393.26h7.64"/>
<text class="xl" transform="translate(333.59,413.4) rotate(-30)">DBO</text>
<path class="wh" d="M330.29 376.57V370.84M330.29 390.77V398.49"/>
<rect class="b1" x="326.02" y="376.57" width="8.54" height="14.2"/>
<path class="m1" d="M326.47 381.06h7.64"/>
<text class="xl" transform="translate(351.01,413.4) rotate(-30)">POA</text>
<path class="wh" d="M347.71 381.55V373.58M347.71 394.76V400.49"/>
<rect class="b2" x="343.44" y="381.55" width="8.54" height="13.2"/>
<path class="m2" d="M343.89 389.03h7.64"/>
<text class="xl" transform="translate(368.44,413.4) rotate(-30)">SCSO</text>
<path class="wh" d="M365.14 380.31V369.6M365.14 387.28V394.01"/>
<rect class="b3" x="360.87" y="380.31" width="8.54" height="6.97"/>
<path class="m3" d="M361.32 383.3h7.64"/>
<circle cx="365.14" cy="397.75" r="2.35"/>
<circle cx="365.14" cy="398.99" r="2.35"/>
<text class="xl" transform="translate(385.86,413.4) rotate(-30)">HHO</text>
<path class="wh" d="M382.56 372.34V361.63M382.56 384.54V394.01"/>
<rect class="b4" x="378.29" y="372.34" width="8.54" height="12.21"/>
<path class="m4" d="M378.74 378.32h7.64"/>
<circle cx="382.56" cy="351.17" r="2.35"/>
<circle cx="382.56" cy="403.47" r="2.35"/>
<text class="xl" transform="translate(403.29,413.4) rotate(-30)">SABO</text>
<path class="wh" d="M399.99 367.11V364.12M399.99 372.34V376.57"/>
<rect class="b5" x="395.72" y="367.11" width="8.54" height="5.23"/>
<path class="m5" d="M396.17 369.1h7.64"/>
<circle cx="399.99" cy="347.18" r="2.35"/>
<circle cx="399.99" cy="359.63" r="2.35"/>
<circle cx="399.99" cy="380.81" r="2.35"/>
<circle cx="399.99" cy="381.8" r="2.35"/>
<path class="cp" d="M310.55 381.55h4.61M310.55 401.98h4.61M327.98 370.84h4.61M327.98 398.49h4.61M345.41 373.58h4.61M345.41 400.49h4.61M362.83 369.6h4.61M362.83 394.01h4.61M380.26 361.63h4.61M380.26 394.01h4.61M397.68 364.12h4.61M397.68 376.57h4.61"/>
<path class="tk" d="M304.15 352.91h1.2M408.7 352.91h-1.2M304.15 372.09h1.2M408.7 372.09h-1.2M304.15 391.02h1.2M408.7 391.02h-1.2M312.86 406.2v-1.2M312.86 344.4v1.2M330.29 406.2v-1.2M330.29 344.4v1.2M347.71 406.2v-1.2M347.71 344.4v1.2M365.14 406.2v-1.2M365.14 344.4v1.2M382.56 406.2v-1.2M382.56 344.4v1.2M399.99 406.2v-1.2M399.99 344.4v1.2"/>
</g>
<g>
<rect class="ax" x="443.39" y="344.4" width="103.41" height="61.8"/>
<text class="ti" x="495.09" y="341.7" font-size="7.3">F17</text>
<text class="yl" x="440.39" y="363.63">3000</text>
<text class="yl" x="440.39" y="384.05">2500</text>
<text class="yl" x="440.39" y="404.48">2000</text>
<text class="xl" transform="translate(455.31,413.4) rotate(-30)">MSCSO</text>
<path class="wh" d="M452.01 379.06V362.37M452.01 397V402.73"/>
<rect class="b0" x="447.78" y="379.06" width="8.45" height="17.93"/>
<path class="m0" d="M448.23 389.03h7.55"/>
<text class="xl" transform="translate(472.54,413.4) rotate(-30)">DBO</text>
<path class="wh" d="M469.24 365.36V353.41M469.24 381.55V394.76"/>
<rect class="b1" x="465.02" y="365.36" width="8.45" height="16.19"/>
<path class="m1" d="M465.47 371.09h7.55"/>
<text class="xl" transform="translate(489.78,413.4) rotate(-30)">POA</text>
<path class="wh" d="M486.48 384.05V372.84M486.48 397.75V402.73"/>
<rect class="b2" x="482.25" y="384.05" width="8.45" height="13.7"/>
<path class="m2" d="M482.7 390.27h7.55"/>
<text class="xl" transform="translate(507.01,413.4) rotate(-30)">SCSO</text>
<path class="wh" d="M503.71 375.83V369.85M503.71 394.51V401.48"/>
<rect class="b3" x="499.49" y="375.83" width="8.45" height="18.68"/>
<path class="m3" d="M499.94 384.54h7.55"/>
<text class="xl" transform="translate(524.25,413.4) rotate(-30)">HHO</text>
<path class="wh" d="M520.95 365.86V347.18M520.95 385.79V394.51"/>
<rect class="b4" x="516.72" y="365.86" width="8.45" height="19.93"/>
<path class="m4" d="M517.17 380.31h7.55"/>
<text class="xl" transform="translate(541.48,413.4) rotate(-30)">SABO</text>
<path class="wh" d="M538.18 355.4V349.67M538.18 366.61V381.55"/>
<rect class="b5" x="533.96" y="355.4" width="8.45" height="11.21"/>
<path class="m5" d="M534.41 360.88h7.55"/>
<circle cx="538.18" cy="396" r="2.35"/>
<path class="cp" d="M449.73 362.37h4.56M449.73 402.73h4.56M466.96 353.41h4.56M466.96 394.76h4.56M484.2 372.84h4.56M484.2 402.73h4.56M501.43 369.85h4.56M501.43 401.48h4.56M518.67 347.18h4.56M518.67 394.51h4.56M535.9 349.67h4.56M535.9 381.55h4.56"/>
<path class="tk" d="M443.39 361.13h1.2M546.8 361.13h-1.2M443.39 381.55h1.2M546.8 381.55h-1.2M443.39 401.98h1.2M546.8 401.98h-1.2M452.01 406.2v-1.2M452.01 344.4v1.2M469.24 406.2v-1.2M469.24 344.4v1.2M486.48 406.2v-1.2M486.48 344.4v1.2M503.71 406.2v-1.2M503.71 344.4v1.2M520.95 406.2v-1.2M520.95 344.4v1.2M538.18 406.2v-1.2M538.18 344.4v1.2"/>
</g>
<g>
<rect class="ax" x="25.66" y="451" width="105.94" height="64.97"/>
<text class="ti" x="78.63" y="448.3" font-size="7.3">F18</text>
<text class="ex" x="25.66" y="448.7"><tspan class="mx">×</tspan><tspan dx="0.6">10</tspan><tspan dy="-2.8" font-size="5">7</tspan></text>
<text class="yl" x="22.66" y="464.91">3</text>
<text class="yl" x="22.66" y="482.1">2</text>
<text class="yl" x="22.66" y="499.04">1</text>
<text class="yl" x="22.66" y="515.97">0</text>
<text class="xl" transform="translate(37.78,523.17) rotate(-30)">MSCSO</text>
<rect class="b0 fl" x="30.16" y="512.98" width="8.65" height="0.4"/>
<path class="m0 fl" d="M30.61 512.98h7.75"/>
<circle cx="34.48" cy="511.73" r="2.35"/>
<text class="xl" transform="translate(55.44,523.17) rotate(-30)">DBO</text>
<path class="wh" d="M52.14 499.53V491.06M52.14 512.23V513.23"/>
<rect class="b1" x="47.82" y="499.53" width="8.65" height="12.7"/>
<path class="m1" d="M48.27 508.99h7.75"/>
<circle cx="52.14" cy="477.36" r="2.35"/>
<text class="xl" transform="translate(73.1,523.17) rotate(-30)">POA</text>
<rect class="b2 fl" x="65.47" y="513.23" width="8.65" height="0.4"/>
<path class="m2 fl" d="M65.92 513.23h7.75"/>
<circle cx="69.8" cy="511.98" r="2.35"/>
<text class="xl" transform="translate(90.76,523.17) rotate(-30)">SCSO</text>
<path class="wh" d="M87.46 506.5V503.51M87.46 511.98V513.23"/>
<rect class="b3" x="83.13" y="506.5" width="8.65" height="5.48"/>
<path class="m3" d="M83.58 509.74h7.75"/>
<circle cx="87.46" cy="495.29" r="2.35"/>
<circle cx="87.46" cy="496.54" r="2.35"/>
<circle cx="87.46" cy="497.78" r="2.35"/>
<text class="xl" transform="translate(108.41,523.17) rotate(-30)">HHO</text>
<path class="wh" d="M105.11 502.27V491.06M105.11 510.98V513.23"/>
<rect class="b4" x="100.79" y="502.27" width="8.65" height="8.72"/>
<path class="m4" d="M101.24 505.75h7.75"/>
<circle cx="105.11" cy="479.1" r="2.35"/>
<circle cx="105.11" cy="486.57" r="2.35"/>
<text class="xl" transform="translate(126.07,523.17) rotate(-30)">SABO</text>
<path class="wh" d="M122.77 500.27V498.53M122.77 510.73V513.23"/>
<rect class="b5" x="118.45" y="500.27" width="8.65" height="10.46"/>
<path class="m5" d="M118.9 508.99h7.75"/>
<circle cx="122.77" cy="454.19" r="2.35"/>
<circle cx="122.77" cy="470.38" r="2.35"/>
<circle cx="122.77" cy="485.33" r="2.35"/>
<path class="cp" d="M32.15 512.98h4.67M32.15 512.98h4.67M49.81 491.06h4.67M49.81 513.23h4.67M67.46 513.23h4.67M67.46 513.23h4.67M85.12 503.51h4.67M85.12 513.23h4.67M102.78 491.06h4.67M102.78 513.23h4.67M120.44 498.53h4.67M120.44 513.23h4.67"/>
<path class="tk" d="M25.66 462.41h1.2M131.6 462.41h-1.2M25.66 479.6h1.2M131.6 479.6h-1.2M25.66 496.54h1.2M131.6 496.54h-1.2M25.66 513.47h1.2M131.6 513.47h-1.2M34.48 515.97v-1.2M34.48 451v1.2M52.14 515.97v-1.2M52.14 451v1.2M69.8 515.97v-1.2M69.8 451v1.2M87.46 515.97v-1.2M87.46 451v1.2M105.11 515.97v-1.2M105.11 451v1.2M122.77 515.97v-1.2M122.77 451v1.2"/>
</g>
<g>
<rect class="ax" x="171.13" y="451" width="99.17" height="64.97"/>
<text class="ti" x="220.71" y="448.3" font-size="7.3">F19</text>
<text class="ex" x="171.13" y="448.7"><tspan class="mx">×</tspan><tspan dx="0.6">10</tspan><tspan dy="-2.8" font-size="5">7</tspan></text>
<text class="yl" x="168.13" y="467.9">4</text>
<text class="yl" x="168.13" y="492.06">2</text>
<text class="yl" x="168.13" y="515.97">0</text>
<text class="xl" transform="translate(182.69,523.17) rotate(-30)">MSCSO</text>
<rect class="b0 fl" x="175.34" y="513.23" width="8.1" height="0.4"/>
<path class="m0 fl" d="M175.79 513.23h7.2"/>
<circle cx="179.39" cy="513.23" r="2.35"/>
<text class="xl" transform="translate(199.22,523.17) rotate(-30)">DBO</text>
<path class="wh" d="M195.92 510.24V507.25M195.92 512.98V513.47"/>
<rect class="b1" x="191.87" y="510.24" width="8.1" height="2.74"/>
<path class="m1" d="M192.32 511.98h7.2"/>
<circle cx="195.92" cy="495.79" r="2.35"/>
<text class="xl" transform="translate(215.75,523.17) rotate(-30)">POA</text>
<path class="wh" d="M212.45 511.23V510.24M212.45 512.98V513.47"/>
<rect class="b2" x="208.4" y="511.23" width="8.1" height="1.74"/>
<path class="m2" d="M208.85 512.23h7.2"/>
<circle cx="212.45" cy="508.49" r="2.35"/>
<text class="xl" transform="translate(232.28,523.17) rotate(-30)">SCSO</text>
<path class="wh" d="M228.98 508.99V504.76M228.98 512.73V513.47"/>
<rect class="b3" x="224.93" y="508.99" width="8.1" height="3.74"/>
<path class="m3" d="M225.38 511.48h7.2"/>
<circle cx="228.98" cy="454.19" r="2.35"/>
<circle cx="228.98" cy="467.14" r="2.35"/>
<circle cx="228.98" cy="471.13" r="2.35"/>
<circle cx="228.98" cy="485.33" r="2.35"/>
<text class="xl" transform="translate(248.81,523.17) rotate(-30)">HHO</text>
<path class="wh" d="M245.51 510.24V508.49M245.51 512.73V513.47"/>
<rect class="b4" x="241.46" y="510.24" width="8.1" height="2.49"/>
<path class="m4" d="M241.91 511.48h7.2"/>
<text class="xl" transform="translate(265.34,523.17) rotate(-30)">SABO</text>
<path class="wh" d="M262.04 507V499.03M262.04 511.98V513.47"/>
<rect class="b5" x="257.99" y="507" width="8.1" height="4.98"/>
<path class="m5" d="M258.44 510.24h7.2"/>
<circle cx="262.04" cy="492.05" r="2.35"/>
<path class="cp" d="M177.21 513.23h4.37M177.21 513.23h4.37M193.74 507.25h4.37M193.74 513.47h4.37M210.26 510.24h4.37M210.26 513.47h4.37M226.79 504.76h4.37M226.79 513.47h4.37M243.32 508.49h4.37M243.32 513.47h4.37M259.85 499.03h4.37M259.85 513.47h4.37"/>
<path class="tk" d="M171.13 465.4h1.2M270.3 465.4h-1.2M171.13 489.56h1.2M270.3 489.56h-1.2M171.13 513.47h1.2M270.3 513.47h-1.2M179.39 515.97v-1.2M179.39 451v1.2M195.92 515.97v-1.2M195.92 451v1.2M212.45 515.97v-1.2M212.45 451v1.2M228.98 515.97v-1.2M228.98 451v1.2M245.51 515.97v-1.2M245.51 451v1.2M262.04 515.97v-1.2M262.04 451v1.2"/>
</g>
<g>
<rect class="ax" x="304.15" y="457.1" width="104.55" height="58.87"/>
<text class="ti" x="356.42" y="454.4" font-size="7.3">F20</text>
<text class="yl" x="301.15" y="460.43">3400</text>
<text class="yl" x="301.15" y="469.89">3200</text>
<text class="yl" x="301.15" y="479.36">3000</text>
<text class="yl" x="301.15" y="488.57">2800</text>
<text class="yl" x="301.15" y="498.04">2600</text>
<text class="yl" x="301.15" y="507.51">2400</text>
<text class="yl" x="301.15" y="516.72">2200</text>
<text class="xl" transform="translate(316.16,523.17) rotate(-30)">MSCSO</text>
<path class="wh" d="M312.86 490.31V470.38M312.86 506.5V512.73"/>
<rect class="b0" x="308.59" y="490.31" width="8.54" height="16.19"/>
<path class="m0" d="M309.04 499.53h7.64"/>
<text class="xl" transform="translate(333.59,523.17) rotate(-30)">DBO</text>
<path class="wh" d="M330.29 481.59V465.4M330.29 493.3V507.75"/>
<rect class="b1" x="326.02" y="481.59" width="8.54" height="11.71"/>
<path class="m1" d="M326.47 487.07h7.64"/>
<text class="xl" transform="translate(351.01,523.17) rotate(-30)">POA</text>
<path class="wh" d="M347.71 494.79V487.32M347.71 502.76V510.98"/>
<rect class="b2" x="343.44" y="494.79" width="8.54" height="7.97"/>
<path class="m2" d="M343.89 497.78h7.64"/>
<text class="xl" transform="translate(368.44,523.17) rotate(-30)">SCSO</text>
<path class="wh" d="M365.14 486.57V474.12M365.14 500.77V512.23"/>
<rect class="b3" x="360.87" y="486.57" width="8.54" height="14.2"/>
<path class="m3" d="M361.32 491.06h7.64"/>
<text class="xl" transform="translate(385.86,523.17) rotate(-30)">HHO</text>
<path class="wh" d="M382.56 479.85V459.92M382.56 492.8V503.51"/>
<rect class="b4" x="378.29" y="479.85" width="8.54" height="12.95"/>
<path class="m4" d="M378.74 485.33h7.64"/>
<text class="xl" transform="translate(403.29,523.17) rotate(-30)">SABO</text>
<path class="wh" d="M399.99 466.15V460.42M399.99 477.36V484.58"/>
<rect class="b5" x="395.72" y="466.15" width="8.54" height="11.21"/>
<path class="m5" d="M396.17 472.87h7.64"/>
<path class="cp" d="M310.55 470.38h4.61M310.55 512.73h4.61M327.98 465.4h4.61M327.98 507.75h4.61M345.41 487.32h4.61M345.41 510.98h4.61M362.83 474.12h4.61M362.83 512.23h4.61M380.26 459.92h4.61M380.26 503.51h4.61M397.68 460.42h4.61M397.68 484.58h4.61"/>
<path class="tk" d="M304.15 457.93h1.2M408.7 457.93h-1.2M304.15 467.39h1.2M408.7 467.39h-1.2M304.15 476.86h1.2M408.7 476.86h-1.2M304.15 486.07h1.2M408.7 486.07h-1.2M304.15 495.54h1.2M408.7 495.54h-1.2M304.15 505.01h1.2M408.7 505.01h-1.2M304.15 514.22h1.2M408.7 514.22h-1.2M312.86 515.97v-1.2M312.86 457.1v1.2M330.29 515.97v-1.2M330.29 457.1v1.2M347.71 515.97v-1.2M347.71 457.1v1.2M365.14 515.97v-1.2M365.14 457.1v1.2M382.56 515.97v-1.2M382.56 457.1v1.2M399.99 515.97v-1.2M399.99 457.1v1.2"/>
</g>
<g>
<rect class="ax" x="443.1" y="457.2" width="103.7" height="58.77"/>
<text class="ti" x="494.95" y="454.5" font-size="7.3">F21</text>
<text class="yl" x="440.1" y="460.43">2800</text>
<text class="yl" x="440.1" y="488.57">2600</text>
<text class="yl" x="440.1" y="516.72">2400</text>
<text class="xl" transform="translate(455.04,523.17) rotate(-30)">MSCSO</text>
<path class="wh" d="M451.74 497.03V489.81M451.74 508.49V512.73"/>
<rect class="b0" x="447.51" y="497.03" width="8.47" height="11.46"/>
<path class="m0" d="M447.96 504.01h7.57"/>
<text class="xl" transform="translate(472.32,523.17) rotate(-30)">DBO</text>
<path class="wh" d="M469.02 491.06V489.06M469.02 496.54V498.53"/>
<rect class="b1" x="464.79" y="491.06" width="8.47" height="5.48"/>
<path class="m1" d="M465.24 493.55h7.57"/>
<circle cx="469.02" cy="480.84" r="2.35"/>
<circle cx="469.02" cy="509.49" r="2.35"/>
<text class="xl" transform="translate(489.61,523.17) rotate(-30)">POA</text>
<path class="wh" d="M486.31 489.81V484.58M486.31 496.04V504.01"/>
<rect class="b2" x="482.07" y="489.81" width="8.47" height="6.23"/>
<path class="m2" d="M482.52 493.3h7.57"/>
<text class="xl" transform="translate(506.89,523.17) rotate(-30)">SCSO</text>
<path class="wh" d="M503.59 490.31V485.83M503.59 501.52V506.5"/>
<rect class="b3" x="499.36" y="490.31" width="8.47" height="11.21"/>
<path class="m3" d="M499.81 495.79h7.57"/>
<text class="xl" transform="translate(524.17,523.17) rotate(-30)">HHO</text>
<path class="wh" d="M520.88 480.84V467.39M520.88 493.3V503.26"/>
<rect class="b4" x="516.64" y="480.84" width="8.47" height="12.45"/>
<path class="m4" d="M517.09 486.57h7.57"/>
<circle cx="520.88" cy="459.92" r="2.35"/>
<text class="xl" transform="translate(541.46,523.17) rotate(-30)">SABO</text>
<path class="wh" d="M538.16 483.33V475.86M538.16 489.56V494.05"/>
<rect class="b5" x="533.92" y="483.33" width="8.47" height="6.23"/>
<path class="m5" d="M534.37 486.57h7.57"/>
<path class="cp" d="M449.46 489.81h4.57M449.46 512.73h4.57M466.74 489.06h4.57M466.74 498.53h4.57M484.02 484.58h4.57M484.02 504.01h4.57M501.31 485.83h4.57M501.31 506.5h4.57M518.59 467.39h4.57M518.59 503.26h4.57M535.87 475.86h4.57M535.87 494.05h4.57"/>
<path class="tk" d="M443.1 457.93h1.2M546.8 457.93h-1.2M443.1 486.07h1.2M546.8 486.07h-1.2M443.1 514.22h1.2M546.8 514.22h-1.2M451.74 515.97v-1.2M451.74 457.2v1.2M469.02 515.97v-1.2M469.02 457.2v1.2M486.31 515.97v-1.2M486.31 457.2v1.2M503.59 515.97v-1.2M503.59 457.2v1.2M520.88 515.97v-1.2M520.88 457.2v1.2M538.16 515.97v-1.2M538.16 457.2v1.2"/>
</g>
<g>
<rect class="ax" x="26.3" y="568.5" width="105.3" height="57.8"/>
<text class="ti" x="78.95" y="565.8" font-size="7.3">F22</text>
<text class="yl" x="23.3" y="581.64">8000</text>
<text class="yl" x="23.3" y="594.09">6000</text>
<text class="yl" x="23.3" y="607.04">4000</text>
<text class="yl" x="23.3" y="619.75">2000</text>
<text class="xl" transform="translate(38.38,633.5) rotate(-30)">MSCSO</text>
<path class="wh" d="M35.08 586.61V572.91"/>
<rect class="b0" x="30.78" y="586.61" width="8.6" height="28.65"/>
<path class="m0" d="M31.23 615.25h7.7"/>
<text class="xl" transform="translate(55.92,633.5) rotate(-30)">DBO</text>
<path class="wh" d="M52.62 585.36V578.39M52.62 614.76V615.25"/>
<rect class="b1" x="48.33" y="585.36" width="8.6" height="29.39"/>
<path class="m1" d="M48.78 599.56h7.7"/>
<text class="xl" transform="translate(73.47,633.5) rotate(-30)">POA</text>
<path class="wh" d="M70.17 587.11V581.13M70.17 604.54V610.27"/>
<rect class="b2" x="65.88" y="587.11" width="8.6" height="17.44"/>
<path class="m2" d="M66.33 599.81h7.7"/>
<text class="xl" transform="translate(91.03,633.5) rotate(-30)">SCSO</text>
<path class="wh" d="M87.73 589.6V571.17M87.73 609.03V613.26"/>
<rect class="b3" x="83.43" y="589.6" width="8.6" height="19.43"/>
<path class="m3" d="M83.88 605.79h7.7"/>
<text class="xl" transform="translate(108.58,633.5) rotate(-30)">HHO</text>
<path class="wh" d="M105.28 578.39V574.65M105.28 585.36V590.84"/>
<rect class="b4" x="100.98" y="578.39" width="8.6" height="6.97"/>
<path class="m4" d="M101.43 582.37h7.7"/>
<circle cx="105.28" cy="600.31" r="2.35"/>
<circle cx="105.28" cy="604.79" r="2.35"/>
<circle cx="105.28" cy="612.27" r="2.35"/>
<text class="xl" transform="translate(126.12,633.5) rotate(-30)">SABO</text>
<path class="wh" d="M122.83 600.31V594.58M122.83 605.79V609.77"/>
<rect class="b5" x="118.53" y="600.31" width="8.6" height="5.48"/>
<path class="m5" d="M118.98 603.3h7.7"/>
<path class="cp" d="M32.75 572.91h4.64M32.75 615.25h4.64M50.3 578.39h4.64M50.3 615.25h4.64M67.85 581.13h4.64M67.85 610.27h4.64M85.4 571.17h4.64M85.4 613.26h4.64M102.95 574.65h4.64M102.95 590.84h4.64M120.5 594.58h4.64M120.5 609.77h4.64"/>
<path class="tk" d="M26.3 579.14h1.2M131.6 579.14h-1.2M26.3 591.59h1.2M131.6 591.59h-1.2M26.3 604.54h1.2M131.6 604.54h-1.2M26.3 617.25h1.2M131.6 617.25h-1.2M35.08 626.3v-1.2M35.08 568.5v1.2M52.62 626.3v-1.2M52.62 568.5v1.2M70.17 626.3v-1.2M70.17 568.5v1.2M87.73 626.3v-1.2M87.73 568.5v1.2M105.28 626.3v-1.2M105.28 568.5v1.2M122.83 626.3v-1.2M122.83 568.5v1.2"/>
</g>
<g>
<rect class="ax" x="164.65" y="568.5" width="105.65" height="57.8"/>
<text class="ti" x="217.48" y="565.8" font-size="7.3">F23</text>
<text class="yl" x="161.65" y="576.65">3600</text>
<text class="yl" x="161.65" y="588.61">3400</text>
<text class="yl" x="161.65" y="600.32">3200</text>
<text class="yl" x="161.65" y="612.03">3000</text>
<text class="yl" x="161.65" y="623.98">2800</text>
<text class="xl" transform="translate(176.76,633.5) rotate(-30)">MSCSO</text>
<path class="wh" d="M173.46 614.76V610.27M173.46 620.24V622.73"/>
<rect class="b0" x="169.14" y="614.76" width="8.63" height="5.48"/>
<path class="m0" d="M169.59 617.75h7.73"/>
<text class="xl" transform="translate(194.36,633.5) rotate(-30)">DBO</text>
<path class="wh" d="M191.06 604.05V599.56M191.06 610.27V615.25"/>
<rect class="b1" x="186.75" y="604.05" width="8.63" height="6.23"/>
<path class="m1" d="M187.2 607.28h7.73"/>
<text class="xl" transform="translate(211.97,633.5) rotate(-30)">POA</text>
<path class="wh" d="M208.67 604.54V602.3M208.67 610.77V614.01"/>
<rect class="b2" x="204.36" y="604.54" width="8.63" height="6.23"/>
<path class="m2" d="M204.81 607.78h7.73"/>
<circle cx="208.67" cy="588.6" r="2.35"/>
<circle cx="208.67" cy="593.33" r="2.35"/>
<text class="xl" transform="translate(229.58,633.5) rotate(-30)">SCSO</text>
<path class="wh" d="M226.28 610.27V607.28M226.28 616.5V619.74"/>
<rect class="b3" x="221.97" y="610.27" width="8.63" height="6.23"/>
<path class="m3" d="M222.42 613.26h7.73"/>
<text class="xl" transform="translate(247.19,633.5) rotate(-30)">HHO</text>
<path class="wh" d="M243.89 586.61V582.13M243.89 597.32V606.54"/>
<rect class="b4" x="239.57" y="586.61" width="8.63" height="10.71"/>
<path class="m4" d="M240.02 594.58h7.73"/>
<circle cx="243.89" cy="571.17" r="2.35"/>
<text class="xl" transform="translate(264.8,633.5) rotate(-30)">SABO</text>
<path class="wh" d="M261.5 595.83V590.35M261.5 602.8V607.28"/>
<rect class="b5" x="257.18" y="595.83" width="8.63" height="6.97"/>
<path class="m5" d="M257.63 599.56h7.73"/>
<path class="cp" d="M171.13 610.27h4.66M171.13 622.73h4.66M188.74 599.56h4.66M188.74 615.25h4.66M206.34 602.3h4.66M206.34 614.01h4.66M223.95 607.28h4.66M223.95 619.74h4.66M241.56 582.13h4.66M241.56 606.54h4.66M259.17 590.35h4.66M259.17 607.28h4.66"/>
<path class="tk" d="M164.65 574.15h1.2M270.3 574.15h-1.2M164.65 586.11h1.2M270.3 586.11h-1.2M164.65 597.82h1.2M270.3 597.82h-1.2M164.65 609.53h1.2M270.3 609.53h-1.2M164.65 621.48h1.2M270.3 621.48h-1.2M173.46 626.3v-1.2M173.46 568.5v1.2M191.06 626.3v-1.2M191.06 568.5v1.2M208.67 626.3v-1.2M208.67 568.5v1.2M226.28 626.3v-1.2M226.28 568.5v1.2M243.89 626.3v-1.2M243.89 568.5v1.2M261.5 626.3v-1.2M261.5 568.5v1.2"/>
</g>
<g>
<rect class="ax" x="304.15" y="567.4" width="104.55" height="58.9"/>
<text class="ti" x="356.42" y="564.7" font-size="7.3">F24</text>
<text class="yl" x="301.15" y="571.3">3800</text>
<text class="yl" x="301.15" y="583.93">3600</text>
<text class="yl" x="301.15" y="596.56">3400</text>
<text class="yl" x="301.15" y="609.19">3200</text>
<text class="yl" x="301.15" y="621.79">3000</text>
<text class="xl" transform="translate(316.16,633.5) rotate(-30)">MSCSO</text>
<path class="wh" d="M312.86 616.5V614.01M312.86 621.48V623.23"/>
<rect class="b0" x="308.59" y="616.5" width="8.54" height="4.98"/>
<path class="m0" d="M309.04 619.49h7.64"/>
<circle cx="312.86" cy="607.78" r="2.35"/>
<text class="xl" transform="translate(333.59,633.5) rotate(-30)">DBO</text>
<path class="wh" d="M330.29 605.79V597.32M330.29 611.52V617.75"/>
<rect class="b1" x="326.02" y="605.79" width="8.54" height="5.73"/>
<path class="m1" d="M326.47 608.53h7.64"/>
<text class="xl" transform="translate(351.01,633.5) rotate(-30)">POA</text>
<path class="wh" d="M347.71 601.55V595.33M347.71 610.27V617.75"/>
<rect class="b2" x="343.44" y="601.55" width="8.54" height="8.72"/>
<path class="m2" d="M343.89 606.54h7.64"/>
<text class="xl" transform="translate(368.44,633.5) rotate(-30)">SCSO</text>
<path class="wh" d="M365.14 612.02V607.78M365.14 617V620.98"/>
<rect class="b3" x="360.87" y="612.02" width="8.54" height="4.98"/>
<path class="m3" d="M361.32 614.76h7.64"/>
<text class="xl" transform="translate(385.86,633.5) rotate(-30)">HHO</text>
<path class="wh" d="M382.56 581.63V570.42M382.56 594.58V605.79"/>
<rect class="b4" x="378.29" y="581.63" width="8.54" height="12.95"/>
<path class="m4" d="M378.74 586.61h7.64"/>
<text class="xl" transform="translate(403.29,633.5) rotate(-30)">SABO</text>
<path class="wh" d="M399.99 599.56V593.33M399.99 605.29V613.26"/>
<rect class="b5" x="395.72" y="599.56" width="8.54" height="5.73"/>
<path class="m5" d="M396.17 602.8h7.64"/>
<path class="cp" d="M310.55 614.01h4.61M310.55 623.23h4.61M327.98 597.32h4.61M327.98 617.75h4.61M345.41 595.33h4.61M345.41 617.75h4.61M362.83 607.78h4.61M362.83 620.98h4.61M380.26 570.42h4.61M380.26 605.79h4.61M397.68 593.33h4.61M397.68 613.26h4.61"/>
<path class="tk" d="M304.15 568.8h1.2M408.7 568.8h-1.2M304.15 581.43h1.2M408.7 581.43h-1.2M304.15 594.06h1.2M408.7 594.06h-1.2M304.15 606.69h1.2M408.7 606.69h-1.2M304.15 619.29h1.2M408.7 619.29h-1.2M312.86 626.3v-1.2M312.86 567.4v1.2M330.29 626.3v-1.2M330.29 567.4v1.2M347.71 626.3v-1.2M347.71 567.4v1.2M365.14 626.3v-1.2M365.14 567.4v1.2M382.56 626.3v-1.2M382.56 567.4v1.2M399.99 626.3v-1.2M399.99 567.4v1.2"/>
</g>
<g>
<rect class="ax" x="443.1" y="568.5" width="103.7" height="57.8"/>
<text class="ti" x="494.95" y="565.8" font-size="7.3">F25</text>
<text class="yl" x="440.1" y="583.63">4000</text>
<text class="yl" x="440.1" y="602.81">3500</text>
<text class="yl" x="440.1" y="621.99">3000</text>
<text class="xl" transform="translate(455.04,633.5) rotate(-30)">MSCSO</text>
<rect class="b0 fl" x="447.51" y="622.98" width="8.47" height="0.5"/>
<path class="m0 fl" d="M447.96 623.23h7.57"/>
<circle cx="451.74" cy="621.98" r="2.35"/>
<text class="xl" transform="translate(472.32,633.5) rotate(-30)">DBO</text>
<path class="wh" d="M469.02 618.74V617.75M469.02 621.73V622.48"/>
<rect class="b1" x="464.79" y="618.74" width="8.47" height="2.99"/>
<path class="m1" d="M465.24 620.24h7.57"/>
<circle cx="469.02" cy="571.17" r="2.35"/>
<circle cx="469.02" cy="613.51" r="2.35"/>
<text class="xl" transform="translate(489.61,633.5) rotate(-30)">POA</text>
<path class="wh" d="M486.31 600.31V590.84M486.31 614.01V618.99"/>
<rect class="b2" x="482.07" y="600.31" width="8.47" height="13.7"/>
<path class="m2" d="M482.52 612.02h7.57"/>
<text class="xl" transform="translate(506.89,633.5) rotate(-30)">SCSO</text>
<path class="wh" d="M503.59 612.27V609.03M503.59 616V620.73"/>
<rect class="b3" x="499.36" y="612.27" width="8.47" height="3.74"/>
<path class="m3" d="M499.81 614.01h7.57"/>
<circle cx="503.59" cy="599.06" r="2.35"/>
<circle cx="503.59" cy="600.31" r="2.35"/>
<circle cx="503.59" cy="601.55" r="2.35"/>
<circle cx="503.59" cy="604.79" r="2.35"/>
<text class="xl" transform="translate(524.17,633.5) rotate(-30)">HHO</text>
<path class="wh" d="M520.88 617.75V615.25M520.88 620.24V621.98"/>
<rect class="b4" x="516.64" y="617.75" width="8.47" height="2.49"/>
<path class="m4" d="M517.09 618.99h7.57"/>
<text class="xl" transform="translate(541.46,633.5) rotate(-30)">SABO</text>
<path class="wh" d="M538.16 597.82V586.61M538.16 609.03V613.26"/>
<rect class="b5" x="533.92" y="597.82" width="8.47" height="11.21"/>
<path class="m5" d="M534.37 603.55h7.57"/>
<path class="cp" d="M449.46 622.73h4.57M449.46 623.72h4.57M466.74 617.75h4.57M466.74 622.48h4.57M484.02 590.84h4.57M484.02 618.99h4.57M501.31 609.03h4.57M501.31 620.73h4.57M518.59 615.25h4.57M518.59 621.98h4.57M535.87 586.61h4.57M535.87 613.26h4.57"/>
<path class="tk" d="M443.1 581.13h1.2M546.8 581.13h-1.2M443.1 600.31h1.2M546.8 600.31h-1.2M443.1 619.49h1.2M546.8 619.49h-1.2M451.74 626.3v-1.2M451.74 568.5v1.2M469.02 626.3v-1.2M469.02 568.5v1.2M486.31 626.3v-1.2M486.31 568.5v1.2M503.59 626.3v-1.2M503.59 568.5v1.2M520.88 626.3v-1.2M520.88 568.5v1.2M538.16 626.3v-1.2M538.16 568.5v1.2"/>
</g>
<g>
<rect class="ax" x="22.42" y="674.1" width="104.78" height="64.2"/>
<text class="ti" x="74.81" y="671.4" font-size="7.3">F26</text>
<text class="yl" x="19.42" y="682.92">10000</text>
<text class="yl" x="19.42" y="698.36">8000</text>
<text class="yl" x="19.42" y="713.56">6000</text>
<text class="yl" x="19.42" y="729">4000</text>
<text class="xl" transform="translate(34.45,745.5) rotate(-30)">MSCSO</text>
<path class="wh" d="M31.15 707.32V689.14M31.15 735.22V735.72"/>
<rect class="b0" x="26.87" y="707.32" width="8.56" height="27.9"/>
<path class="m0" d="M27.32 723.51h7.66"/>
<text class="xl" transform="translate(51.91,745.5) rotate(-30)">DBO</text>
<path class="wh" d="M48.61 701.59V694.62M48.61 709.81V714.54"/>
<rect class="b1" x="44.34" y="701.59" width="8.56" height="8.22"/>
<path class="m1" d="M44.79 704.08h7.66"/>
<circle cx="48.61" cy="731.48" r="2.35"/>
<text class="xl" transform="translate(69.38,745.5) rotate(-30)">POA</text>
<path class="wh" d="M66.08 694.87V686.65M66.08 704.08V712.3"/>
<rect class="b2" x="61.8" y="694.87" width="8.56" height="9.22"/>
<path class="m2" d="M62.25 699.1h7.66"/>
<text class="xl" transform="translate(86.84,745.5) rotate(-30)">SCSO</text>
<path class="wh" d="M83.54 702.34V696.61M83.54 710.31V722.02"/>
<rect class="b3" x="79.26" y="702.34" width="8.56" height="7.97"/>
<path class="m3" d="M79.71 706.07h7.66"/>
<circle cx="83.54" cy="686.15" r="2.35"/>
<circle cx="83.54" cy="687.39" r="2.35"/>
<circle cx="83.54" cy="688.64" r="2.35"/>
<circle cx="83.54" cy="689.88" r="2.35"/>
<text class="xl" transform="translate(104.3,745.5) rotate(-30)">HHO</text>
<path class="wh" d="M101 689.14V677.18M101 697.11V703.33"/>
<rect class="b4" x="96.73" y="689.14" width="8.56" height="7.97"/>
<path class="m4" d="M97.18 692.87h7.66"/>
<circle cx="101" cy="724.51" r="2.35"/>
<text class="xl" transform="translate(121.77,745.5) rotate(-30)">SABO</text>
<path class="wh" d="M118.47 690.38V686.65M118.47 696.11V700.35"/>
<rect class="b5" x="114.19" y="690.38" width="8.56" height="5.73"/>
<path class="m5" d="M114.64 692.87h7.66"/>
<path class="cp" d="M28.84 689.14h4.62M28.84 735.72h4.62M46.3 694.62h4.62M46.3 714.54h4.62M63.77 686.65h4.62M63.77 712.3h4.62M81.23 696.61h4.62M81.23 722.02h4.62M98.69 677.18h4.62M98.69 703.33h4.62M116.16 686.65h4.62M116.16 700.35h4.62"/>
<path class="tk" d="M22.42 680.42h1.2M127.2 680.42h-1.2M22.42 695.86h1.2M127.2 695.86h-1.2M22.42 711.06h1.2M127.2 711.06h-1.2M22.42 726.5h1.2M127.2 726.5h-1.2M31.15 738.3v-1.2M31.15 674.1v1.2M48.61 738.3v-1.2M48.61 674.1v1.2M66.08 738.3v-1.2M66.08 674.1v1.2M83.54 738.3v-1.2M83.54 674.1v1.2M101 738.3v-1.2M101 674.1v1.2M118.47 738.3v-1.2M118.47 674.1v1.2"/>
</g>
<g>
<rect class="ax" x="161.6" y="674.2" width="105" height="62.1"/>
<text class="ti" x="214.1" y="671.5" font-size="7.3">F27</text>
<text class="yl" x="158.6" y="678.43">4000</text>
<text class="yl" x="158.6" y="693.38">3800</text>
<text class="yl" x="158.6" y="708.33">3600</text>
<text class="yl" x="158.6" y="723.27">3400</text>
<text class="yl" x="158.6" y="738.22">3200</text>
<text class="xl" transform="translate(173.65,743.5) rotate(-30)">MSCSO</text>
<path class="wh" d="M170.35 731.48V730.73M170.35 732.98V733.72"/>
<rect class="b0" x="166.06" y="731.48" width="8.58" height="1.49"/>
<path class="m0" d="M166.51 732.23h7.68"/>
<circle cx="170.35" cy="728.99" r="2.35"/>
<text class="xl" transform="translate(191.15,743.5) rotate(-30)">DBO</text>
<path class="wh" d="M187.85 724.01V716.54M187.85 729.49V732.23"/>
<rect class="b1" x="183.56" y="724.01" width="8.58" height="5.48"/>
<path class="m1" d="M184.01 726.5h7.68"/>
<circle cx="187.85" cy="705.33" r="2.35"/>
<text class="xl" transform="translate(208.65,743.5) rotate(-30)">POA</text>
<path class="wh" d="M205.35 719.53V713.3M205.35 726V731.98"/>
<rect class="b2" x="201.06" y="719.53" width="8.58" height="6.48"/>
<path class="m2" d="M201.51 722.76h7.68"/>
<circle cx="205.35" cy="701.59" r="2.35"/>
<text class="xl" transform="translate(226.15,743.5) rotate(-30)">SCSO</text>
<path class="wh" d="M222.85 717.28V707.07M222.85 724.76V730.98"/>
<rect class="b3" x="218.56" y="717.28" width="8.58" height="7.47"/>
<path class="m3" d="M219.01 719.77h7.68"/>
<text class="xl" transform="translate(243.65,743.5) rotate(-30)">HHO</text>
<path class="wh" d="M240.35 702.84V690.88M240.35 715.79V728.49"/>
<rect class="b4" x="236.06" y="702.84" width="8.58" height="12.95"/>
<path class="m4" d="M236.51 712.05h7.68"/>
<circle cx="240.35" cy="677.43" r="2.35"/>
<text class="xl" transform="translate(261.15,743.5) rotate(-30)">SABO</text>
<path class="wh" d="M257.85 707.07V686.15M257.85 722.02V729.74"/>
<rect class="b5" x="253.56" y="707.07" width="8.58" height="14.95"/>
<path class="m5" d="M254.01 712.3h7.68"/>
<path class="cp" d="M168.03 730.73h4.63M168.03 733.72h4.63M185.53 716.54h4.63M185.53 732.23h4.63M203.03 713.3h4.63M203.03 731.98h4.63M220.53 707.07h4.63M220.53 730.98h4.63M238.03 690.88h4.63M238.03 728.49h4.63M255.53 686.15h4.63M255.53 729.74h4.63"/>
<path class="tk" d="M161.6 675.93h1.2M266.6 675.93h-1.2M161.6 690.88h1.2M266.6 690.88h-1.2M161.6 705.83h1.2M266.6 705.83h-1.2M161.6 720.77h1.2M266.6 720.77h-1.2M161.6 735.72h1.2M266.6 735.72h-1.2M170.35 736.3v-1.2M170.35 674.2v1.2M187.85 736.3v-1.2M187.85 674.2v1.2M205.35 736.3v-1.2M205.35 674.2v1.2M222.85 736.3v-1.2M222.85 674.2v1.2M240.35 736.3v-1.2M240.35 674.2v1.2M257.85 736.3v-1.2M257.85 674.2v1.2"/>
</g>
<g>
<rect class="ax" x="301.66" y="674.1" width="104.62" height="62.3"/>
<text class="ti" x="353.97" y="671.4" font-size="7.3">F28</text>
<text class="yl" x="298.66" y="677.94">6000</text>
<text class="yl" x="298.66" y="699.11">5000</text>
<text class="yl" x="298.66" y="720.28">4000</text>
<text class="xl" transform="translate(313.67,743.6) rotate(-30)">MSCSO</text>
<rect class="b0 fl" x="306.1" y="733.23" width="8.54" height="0.5"/>
<path class="m0 fl" d="M306.55 733.47h7.64"/>
<text class="xl" transform="translate(331.11,743.6) rotate(-30)">DBO</text>
<path class="wh" d="M327.81 725.25V723.51M327.81 730.73V731.48"/>
<rect class="b1" x="323.54" y="725.25" width="8.54" height="5.48"/>
<path class="m1" d="M323.99 728.49h7.64"/>
<circle cx="327.81" cy="677.18" r="2.35"/>
<circle cx="327.81" cy="678.43" r="2.35"/>
<circle cx="327.81" cy="679.92" r="2.35"/>
<circle cx="327.81" cy="681.17" r="2.35"/>
<circle cx="327.81" cy="697.85" r="2.35"/>
<circle cx="327.81" cy="698.6" r="2.35"/>
<circle cx="327.81" cy="707.32" r="2.35"/>
<text class="xl" transform="translate(348.55,743.6) rotate(-30)">POA</text>
<path class="wh" d="M345.25 711.55V696.11M345.25 723.51V727.75"/>
<rect class="b2" x="340.98" y="711.55" width="8.54" height="11.96"/>
<path class="m2" d="M341.43 719.77h7.64"/>
<text class="xl" transform="translate(365.98,743.6) rotate(-30)">SCSO</text>
<path class="wh" d="M362.68 720.27V711.06M362.68 727.25V730.24"/>
<rect class="b3" x="358.41" y="720.27" width="8.54" height="6.97"/>
<path class="m3" d="M358.86 724.01h7.64"/>
<text class="xl" transform="translate(383.42,743.6) rotate(-30)">HHO</text>
<path class="wh" d="M380.12 727.5V726.5M380.12 729.49V730.73"/>
<rect class="b4" x="375.85" y="727.5" width="8.54" height="1.99"/>
<path class="m4" d="M376.3 728.49h7.64"/>
<text class="xl" transform="translate(400.86,743.6) rotate(-30)">SABO</text>
<path class="wh" d="M397.56 699.1V693.62M397.56 718.28V723.26"/>
<rect class="b5" x="393.28" y="699.1" width="8.54" height="19.18"/>
<path class="m5" d="M393.73 709.56h7.64"/>
<path class="cp" d="M308.07 732.98h4.61M308.07 733.97h4.61M325.5 723.51h4.61M325.5 731.48h4.61M342.94 696.11h4.61M342.94 727.75h4.61M360.38 711.06h4.61M360.38 730.24h4.61M377.81 726.5h4.61M377.81 730.73h4.61M395.25 693.62h4.61M395.25 723.26h4.61"/>
<path class="tk" d="M301.66 675.44h1.2M406.27 675.44h-1.2M301.66 696.61h1.2M406.27 696.61h-1.2M301.66 717.78h1.2M406.27 717.78h-1.2M310.37 736.4v-1.2M310.37 674.1v1.2M327.81 736.4v-1.2M327.81 674.1v1.2M345.25 736.4v-1.2M345.25 674.1v1.2M362.68 736.4v-1.2M362.68 674.1v1.2M380.12 736.4v-1.2M380.12 674.1v1.2M397.56 736.4v-1.2M397.56 674.1v1.2"/>
</g>
<g>
<rect class="ax" x="440.4" y="674.4" width="103.87" height="61.9"/>
<text class="ti" x="492.34" y="671.7" font-size="7.3">F29</text>
<text class="yl" x="437.4" y="685.41">7000</text>
<text class="yl" x="437.4" y="699.86">6000</text>
<text class="yl" x="437.4" y="714.55">5000</text>
<text class="yl" x="437.4" y="729.5">4000</text>
<text class="xl" transform="translate(452.36,743.5) rotate(-30)">MSCSO</text>
<path class="wh" d="M449.06 724.01V721.02M449.06 730.73V733.97"/>
<rect class="b0" x="444.81" y="724.01" width="8.48" height="6.73"/>
<path class="m0" d="M445.26 727.75h7.58"/>
<circle cx="449.06" cy="707.82" r="2.35"/>
<circle cx="449.06" cy="712.8" r="2.35"/>
<text class="xl" transform="translate(469.67,743.5) rotate(-30)">DBO</text>
<path class="wh" d="M466.37 717.28V711.55M466.37 723.26V728.24"/>
<rect class="b1" x="462.13" y="717.28" width="8.48" height="5.98"/>
<path class="m1" d="M462.58 720.27h7.58"/>
<text class="xl" transform="translate(486.98,743.5) rotate(-30)">POA</text>
<path class="wh" d="M483.68 712.8V707.07M483.68 719.53V725.75"/>
<rect class="b2" x="479.44" y="712.8" width="8.48" height="6.73"/>
<path class="m2" d="M479.89 716.54h7.58"/>
<text class="xl" transform="translate(504.29,743.5) rotate(-30)">SCSO</text>
<path class="wh" d="M500.99 717.03V713.55M500.99 722.76V724.76"/>
<rect class="b3" x="496.75" y="717.03" width="8.48" height="5.73"/>
<path class="m3" d="M497.2 719.77h7.58"/>
<text class="xl" transform="translate(521.6,743.5) rotate(-30)">HHO</text>
<path class="wh" d="M518.3 709.06V704.08M518.3 717.03V722.27"/>
<rect class="b4" x="514.06" y="709.06" width="8.48" height="7.97"/>
<path class="m4" d="M514.51 713.3h7.58"/>
<circle cx="518.3" cy="693.62" r="2.35"/>
<text class="xl" transform="translate(538.91,743.5) rotate(-30)">SABO</text>
<path class="wh" d="M535.62 696.61V681.66M535.62 707.07V715.79"/>
<rect class="b5" x="531.37" y="696.61" width="8.48" height="10.46"/>
<path class="m5" d="M531.82 701.59h7.58"/>
<circle cx="535.62" cy="677.18" r="2.35"/>
<path class="cp" d="M446.77 721.02h4.58M446.77 733.97h4.58M464.08 711.55h4.58M464.08 728.24h4.58M481.39 707.07h4.58M481.39 725.75h4.58M498.7 713.55h4.58M498.7 724.76h4.58M516.01 704.08h4.58M516.01 722.27h4.58M533.32 681.66h4.58M533.32 715.79h4.58"/>
<path class="tk" d="M440.4 682.91h1.2M544.27 682.91h-1.2M440.4 697.36h1.2M544.27 697.36h-1.2M440.4 712.05h1.2M544.27 712.05h-1.2M440.4 727h1.2M544.27 727h-1.2M449.06 736.3v-1.2M449.06 674.4v1.2M466.37 736.3v-1.2M466.37 674.4v1.2M483.68 736.3v-1.2M483.68 674.4v1.2M500.99 736.3v-1.2M500.99 674.4v1.2M518.3 736.3v-1.2M518.3 674.4v1.2M535.62 736.3v-1.2M535.62 674.4v1.2"/>
</g>
<g>
<rect class="ax" x="20.9" y="781.43" width="106" height="66.97"/>
<text class="ti" x="73.9" y="778.73" font-size="7.3">F30</text>
<text class="ex" x="20.9" y="779.13"><tspan class="mx">×</tspan><tspan dx="0.6">10</tspan><tspan dy="-2.8" font-size="5">8</tspan></text>
<text class="yl" x="17.9" y="791.9">2</text>
<text class="yl" x="17.9" y="806.1">1.5</text>
<text class="yl" x="17.9" y="820.05">1</text>
<text class="yl" x="17.9" y="834">0.5</text>
<text class="yl" x="17.9" y="847.95">0</text>
<text class="xl" transform="translate(33.03,855.6) rotate(-30)">MSCSO</text>
<rect class="b0 fl" x="25.41" y="845.2" width="8.66" height="0.4"/>
<path class="m0 fl" d="M25.86 845.2h7.76"/>
<circle cx="29.73" cy="845.2" r="2.35"/>
<text class="xl" transform="translate(50.7,855.6) rotate(-30)">DBO</text>
<path class="wh" d="M47.4 843.7V843.2"/>
<rect class="b1" x="43.07" y="843.7" width="8.66" height="1"/>
<path class="m1" d="M43.52 844.2h7.76"/>
<circle cx="47.4" cy="840.46" r="2.35"/>
<circle cx="47.4" cy="842.21" r="2.35"/>
<text class="xl" transform="translate(68.37,855.6) rotate(-30)">POA</text>
<path class="wh" d="M65.07 839.97V834.98M65.07 843.7V844.95"/>
<rect class="b2" x="60.74" y="839.97" width="8.66" height="3.74"/>
<path class="m2" d="M61.19 842.21h7.76"/>
<text class="xl" transform="translate(86.03,855.6) rotate(-30)">SCSO</text>
<path class="wh" d="M82.73 838.72V835.98M82.73 843.45V844.7"/>
<rect class="b3" x="78.41" y="838.72" width="8.66" height="4.73"/>
<path class="m3" d="M78.86 841.71h7.76"/>
<circle cx="82.73" cy="832.99" r="2.35"/>
<text class="xl" transform="translate(103.7,855.6) rotate(-30)">HHO</text>
<path class="wh" d="M100.4 839.97V835.98M100.4 843.95V844.95"/>
<rect class="b4" x="96.07" y="839.97" width="8.66" height="3.99"/>
<path class="m4" d="M96.52 842.46h7.76"/>
<text class="xl" transform="translate(121.37,855.6) rotate(-30)">SABO</text>
<path class="wh" d="M118.07 831.75V823.77M118.07 841.71V844.2"/>
<rect class="b5" x="113.74" y="831.75" width="8.66" height="9.96"/>
<path class="m5" d="M114.19 838.22h7.76"/>
<circle cx="118.07" cy="785.17" r="2.35"/>
<circle cx="118.07" cy="796.13" r="2.35"/>
<circle cx="118.07" cy="815.55" r="2.35"/>
<path class="cp" d="M27.4 845.2h4.67M27.4 845.2h4.67M45.06 843.2h4.67M45.06 844.95h4.67M62.73 834.98h4.67M62.73 844.95h4.67M80.4 835.98h4.67M80.4 844.7h4.67M98.06 835.98h4.67M98.06 844.95h4.67M115.73 823.77h4.67M115.73 844.2h4.67"/>
<path class="tk" d="M20.9 789.4h1.2M126.9 789.4h-1.2M20.9 803.6h1.2M126.9 803.6h-1.2M20.9 817.55h1.2M126.9 817.55h-1.2M20.9 831.5h1.2M126.9 831.5h-1.2M20.9 845.45h1.2M126.9 845.45h-1.2M29.73 848.4v-1.2M29.73 781.43v1.2M47.4 848.4v-1.2M47.4 781.43v1.2M65.07 848.4v-1.2M65.07 781.43v1.2M82.73 848.4v-1.2M82.73 781.43v1.2M100.4 848.4v-1.2M100.4 781.43v1.2M118.07 848.4v-1.2M118.07 781.43v1.2"/>
</g>
</svg>
</body></html>
